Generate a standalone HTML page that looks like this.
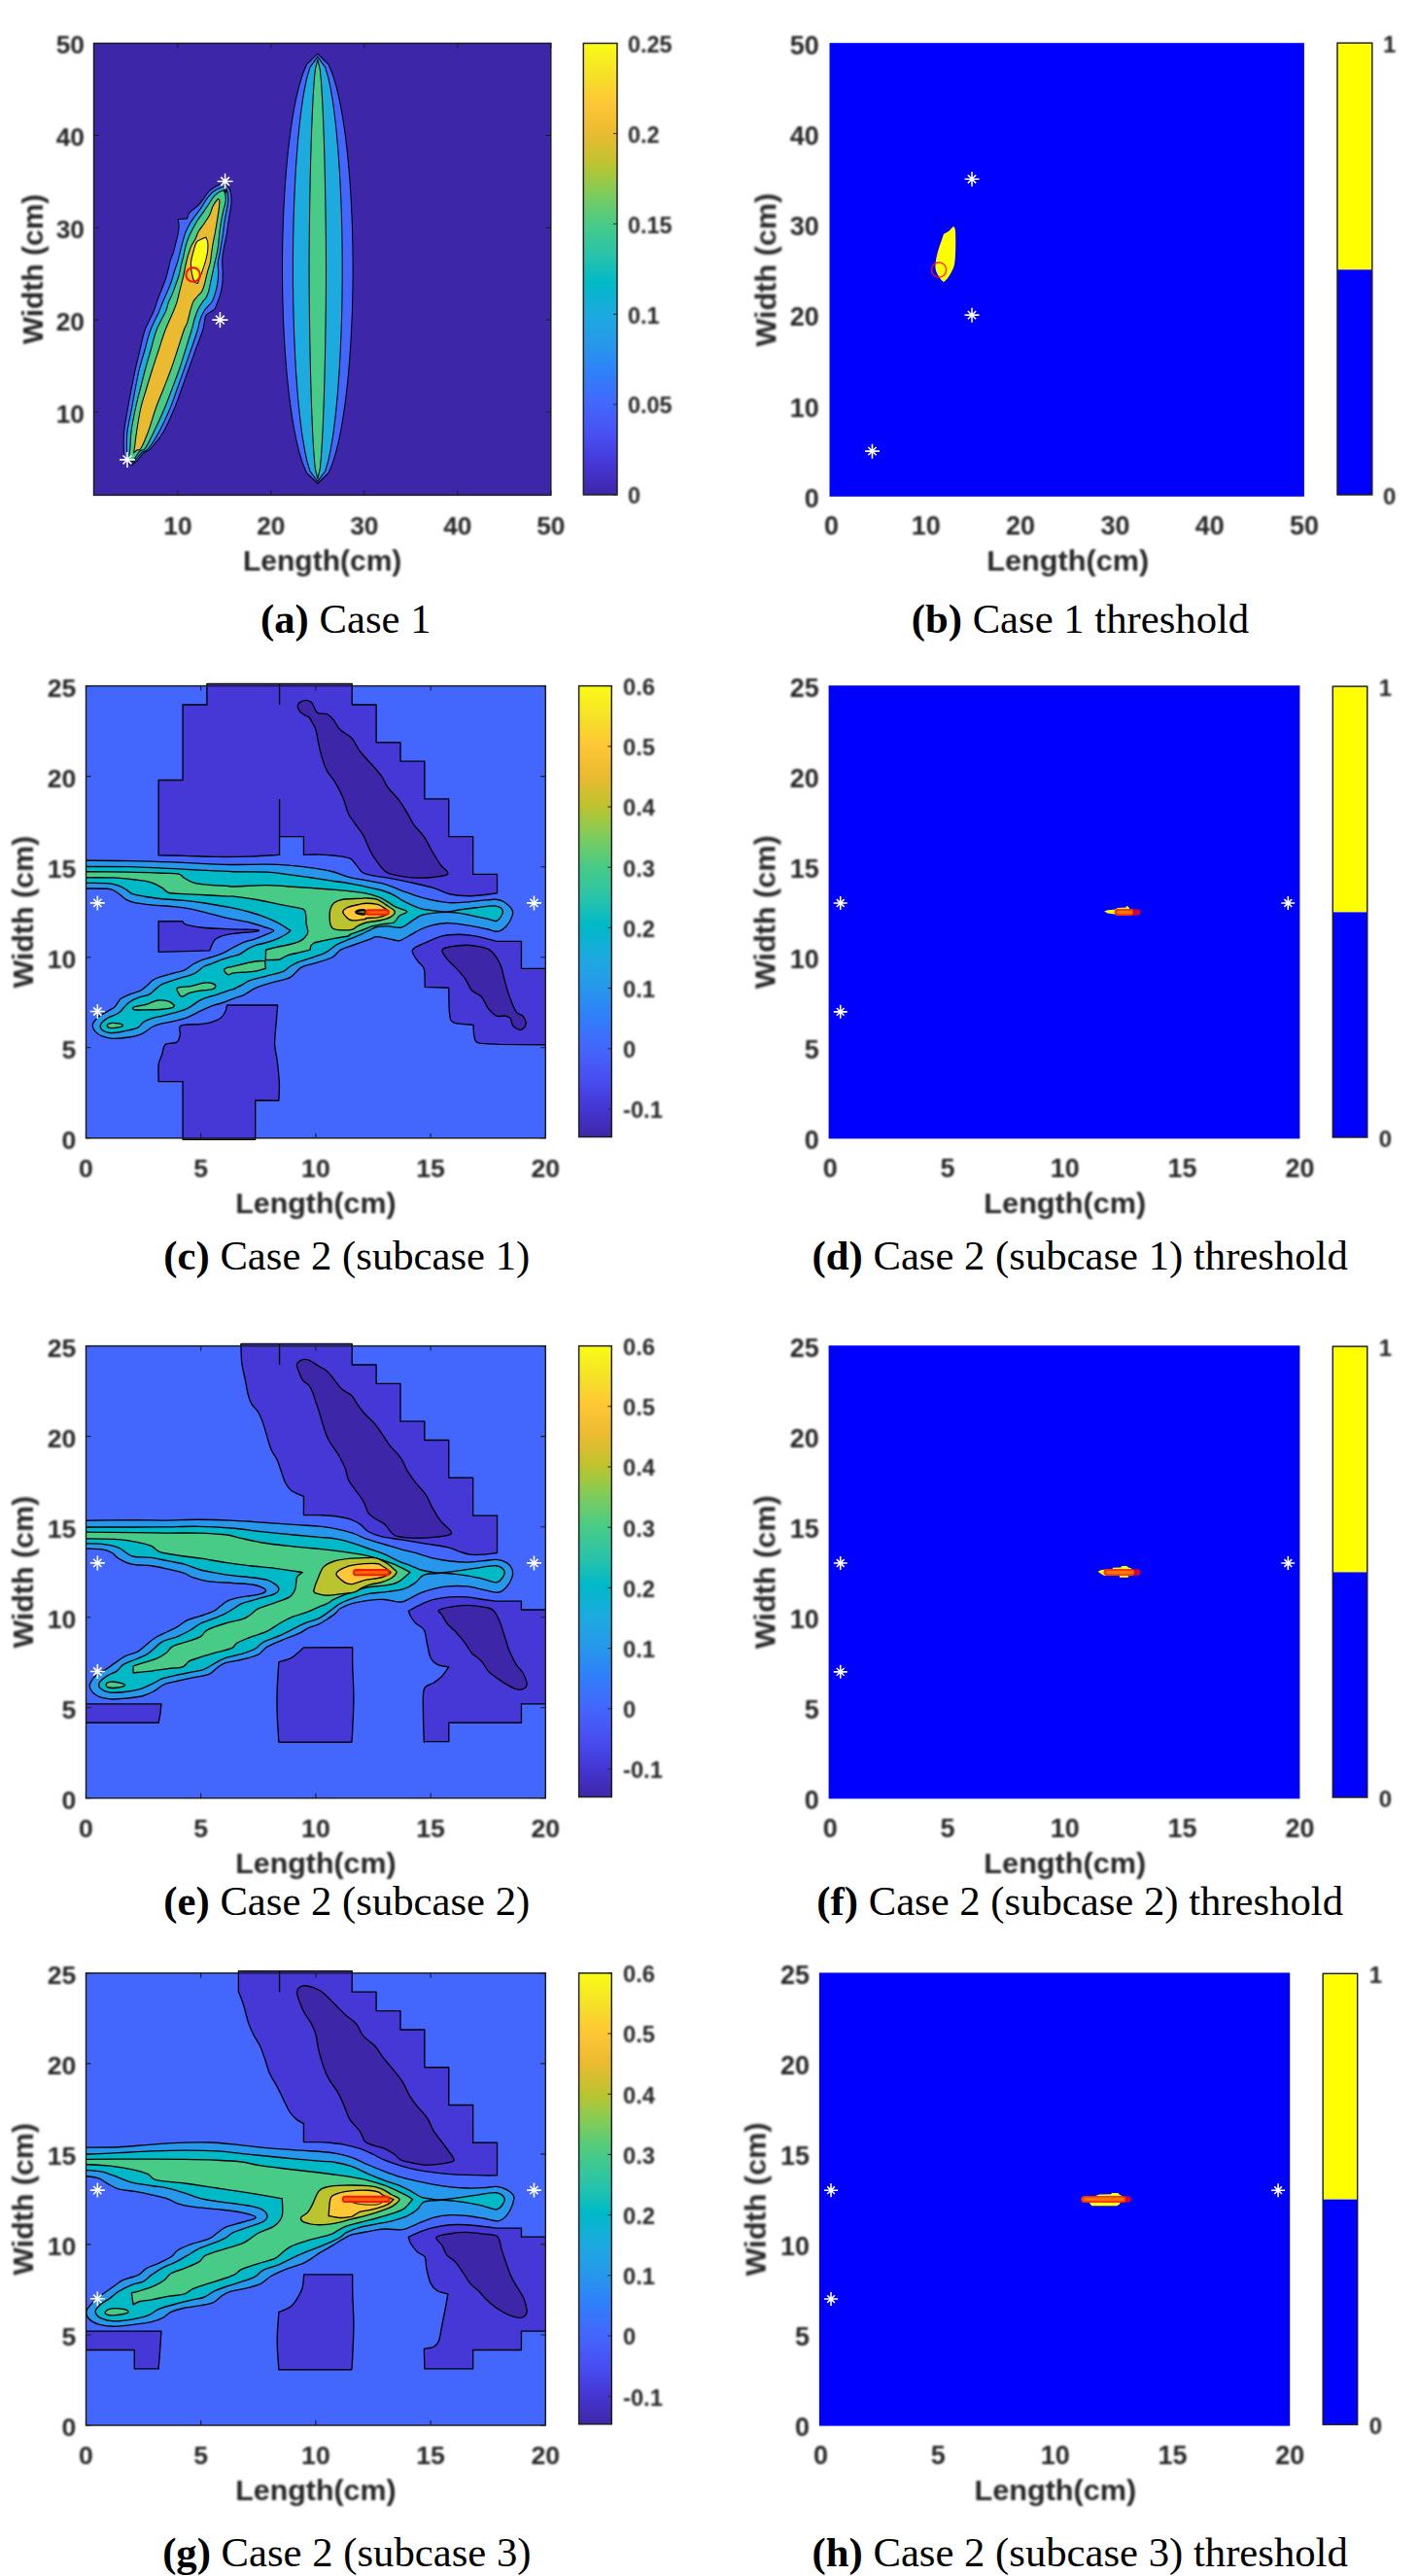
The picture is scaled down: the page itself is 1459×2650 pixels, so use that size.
<!DOCTYPE html>
<html lang="en"><head><meta charset="utf-8"><title>Figure</title>
<style>
html,body{margin:0;padding:0;background:#fff;}
body{width:1459px;height:2650px;overflow:hidden;}
svg{display:block;}
.t{filter:blur(0.8px);}
</style></head><body>
<svg width="1459" height="2650" viewBox="0 0 1459 2650">
<defs>
<linearGradient id="parula" x1="0" y1="1" x2="0" y2="0"><stop offset="0" stop-color="#3e26a8"/><stop offset="0.07" stop-color="#4538d7"/><stop offset="0.13" stop-color="#484ff2"/><stop offset="0.2" stop-color="#4367fd"/><stop offset="0.27" stop-color="#2f80fa"/><stop offset="0.33" stop-color="#2797eb"/><stop offset="0.4" stop-color="#1caadf"/><stop offset="0.47" stop-color="#00b9c7"/><stop offset="0.53" stop-color="#29c3aa"/><stop offset="0.6" stop-color="#48cb86"/><stop offset="0.67" stop-color="#81cc59"/><stop offset="0.73" stop-color="#bbc42f"/><stop offset="0.8" stop-color="#eaba30"/><stop offset="0.87" stop-color="#fec735"/><stop offset="0.93" stop-color="#f5e128"/><stop offset="1" stop-color="#f9fb15"/></linearGradient>
</defs>
<rect x="96.5" y="44.5" width="470.3" height="464.9" fill="#3e26a8"/>
<path d="M326.8 55.4L338.13 66.45L342.62 77.5L345.92 88.56L348.58 99.61L350.81 110.66L352.72 121.72L354.39 132.77L355.84 143.82L357.12 154.87L358.24 165.92L359.22 176.98L360.07 188.03L360.8 199.08L361.43 210.13L361.95 221.19L362.37 232.24L362.69 243.29L362.92 254.34L363.05 265.4L363.1 276.45L363.05 287.5L362.92 298.56L362.69 309.61L362.37 320.66L361.95 331.71L361.43 342.76L360.8 353.82L360.07 364.87L359.22 375.92L358.24 386.98L357.12 398.03L355.84 409.08L354.39 420.13L352.72 431.18L350.81 442.24L348.58 453.29L345.92 464.34L342.62 475.39L338.13 486.45L326.8 497.5L315.47 486.45L310.98 475.39L307.68 464.34L305.02 453.29L302.79 442.24L300.88 431.18L299.21 420.13L297.76 409.08L296.48 398.03L295.36 386.98L294.38 375.92L293.53 364.87L292.8 353.82L292.17 342.76L291.65 331.71L291.23 320.66L290.91 309.61L290.68 298.56L290.55 287.5L290.5 276.45L290.55 265.4L290.68 254.34L290.91 243.29L291.23 232.24L291.65 221.19L292.17 210.13L292.8 199.08L293.53 188.03L294.38 176.98L295.36 165.92L296.48 154.87L297.76 143.82L299.21 132.77L300.88 121.72L302.79 110.66L305.02 99.61L307.68 88.56L310.98 77.5L315.47 66.45Z" fill="#4367fd" stroke="#000" stroke-width="1.05" stroke-linejoin="round"/>
<path d="M326.8 58.4L334.73 69.32L337.87 80.25L340.18 91.17L342.04 102.1L343.6 113.02L344.94 123.95L346.1 134.87L347.12 145.8L348.01 156.72L348.8 167.65L349.48 178.57L350.08 189.5L350.59 200.42L351.03 211.35L351.39 222.27L351.69 233.2L351.91 244.12L352.07 255.05L352.17 265.97L352.2 276.9L352.17 287.82L352.07 298.75L351.91 309.67L351.69 320.6L351.39 331.52L351.03 342.45L350.59 353.38L350.08 364.3L349.48 375.22L348.8 386.15L348.01 397.07L347.12 408L346.1 418.92L344.94 429.85L343.6 440.77L342.04 451.7L340.18 462.62L337.87 473.55L334.73 484.47L326.8 495.4L318.87 484.47L315.73 473.55L313.42 462.62L311.56 451.7L310 440.77L308.66 429.85L307.5 418.92L306.48 408L305.59 397.07L304.8 386.15L304.12 375.22L303.52 364.3L303.01 353.38L302.57 342.45L302.21 331.52L301.91 320.6L301.69 309.67L301.53 298.75L301.43 287.82L301.4 276.9L301.43 265.97L301.53 255.05L301.69 244.12L301.91 233.2L302.21 222.27L302.57 211.35L303.01 200.42L303.52 189.5L304.12 178.57L304.8 167.65L305.59 156.72L306.48 145.8L307.5 134.87L308.66 123.95L310 113.02L311.56 102.1L313.42 91.17L315.73 80.25L318.87 69.32Z" fill="#1caadf" stroke="#000" stroke-width="1.05" stroke-linejoin="round"/>
<path d="M326.8 61.2L329.31 71.99L330.32 82.77L331.07 93.56L331.69 104.34L332.21 115.13L332.67 125.91L333.07 136.7L333.43 147.48L333.75 158.27L334.04 169.05L334.3 179.84L334.53 190.62L334.74 201.41L334.92 212.19L335.08 222.98L335.21 233.76L335.33 244.55L335.41 255.33L335.47 266.12L335.5 276.9L335.47 287.69L335.41 298.47L335.33 309.25L335.21 320.04L335.08 330.83L334.92 341.61L334.74 352.4L334.53 363.18L334.3 373.97L334.04 384.75L333.75 395.54L333.43 406.32L333.07 417.11L332.67 427.89L332.21 438.68L331.69 449.46L331.07 460.25L330.32 471.03L329.31 481.82L326.8 492.6L324.29 481.82L323.28 471.03L322.53 460.25L321.91 449.46L321.39 438.68L320.93 427.89L320.53 417.11L320.17 406.32L319.85 395.54L319.56 384.75L319.3 373.97L319.07 363.18L318.86 352.4L318.68 341.61L318.52 330.83L318.39 320.04L318.27 309.25L318.19 298.47L318.13 287.69L318.1 276.9L318.13 266.12L318.19 255.33L318.27 244.55L318.39 233.76L318.52 222.98L318.68 212.19L318.86 201.41L319.07 190.62L319.3 179.84L319.56 169.05L319.85 158.27L320.17 147.48L320.53 136.7L320.93 125.91L321.39 115.13L321.91 104.34L322.53 93.56L323.28 82.77L324.29 71.99Z" fill="#48cb86" stroke="#000" stroke-width="1.05" stroke-linejoin="round"/>
<path d="M192.62 224.88C191.02 224.97 184.63 225.35 183.03 225.44C183.22 226.57 184.16 229.58 184.16 232.21C184.16 234.85 183.6 238.23 183.03 241.24C182.47 244.25 181.53 247.26 180.78 250.27C180.02 253.28 179.46 256.29 178.52 259.29C177.58 262.3 176.07 265.12 175.13 268.32C174.19 271.52 173.82 274.9 172.88 278.48C171.94 282.05 170.81 286 169.49 289.76C168.18 293.52 166.3 297.66 164.98 301.04C163.66 304.43 162.72 306.91 161.59 310.07C160.47 313.23 160.31 315.01 158.21 320C156.11 324.99 151.37 333.33 149 340C146.63 346.67 145.6 353.42 144 360C142.4 366.58 140.87 372.83 139.4 379.5C137.93 386.17 136.52 393.25 135.2 400C133.88 406.75 132.77 412.67 131.5 420C130.23 427.33 128.32 437.17 127.6 444C126.88 450.83 127.1 456.67 127.2 461C127.3 465.33 127.28 467.27 128.2 470C129.12 472.73 131.32 476.1 132.7 477.4C134.08 478.7 134.98 478.53 136.5 477.8C138.02 477.07 139.88 474.97 141.8 473C143.72 471.03 145.75 468 148 466C150.25 464 151.92 464.67 155.3 461C158.68 457.33 164.27 450.83 168.3 444C172.33 437.17 176.42 427.33 179.5 420C182.58 412.67 184.35 406.75 186.8 400C189.25 393.25 191.8 386.17 194.2 379.5C196.6 372.83 198.82 366.58 201.2 360C203.58 353.42 206.97 344.83 208.5 340C210.03 335.17 209.87 333.55 210.4 331C210.93 328.45 210.92 326.22 211.7 324.7C212.48 323.18 213.58 323.02 215.1 321.9C216.62 320.78 219.48 319.5 220.8 318C222.12 316.5 222.07 315.25 223 312.9C223.93 310.55 225.45 307.28 226.4 303.9C227.35 300.52 228.23 296.37 228.7 292.6C229.17 288.83 229.2 285.07 229.2 281.3C229.2 277.53 228.68 273.29 228.7 270C228.72 266.71 228.97 264.28 229.29 261.55C229.62 258.83 229.99 257.04 230.65 253.65C231.31 250.27 232.55 245.19 233.24 241.24C233.94 237.29 234.26 233.72 234.82 229.96C235.39 226.2 236.08 222.44 236.63 218.67C237.17 214.91 238 210.96 238.1 207.39C238.19 203.82 237.81 199.87 237.19 197.24C236.57 194.6 235.59 193 234.37 191.59C233.15 190.18 232.21 188.58 229.86 188.77C227.51 188.96 222.81 191.31 220.27 192.72C217.73 194.13 216.51 195.17 214.63 197.24C212.75 199.3 210.87 202.69 208.98 205.13C207.1 207.58 205.22 210.02 203.34 211.9C201.46 213.78 199.21 215.1 197.7 216.42C196.2 217.73 195.16 218.39 194.32 219.8C193.47 221.21 192.91 224.03 192.62 224.88Z" fill="#4367fd" stroke="#000" stroke-width="1.05" stroke-linejoin="round"/>
<path d="M229.29 192.16C227.04 192.72 221.96 195.07 219.14 197.24C216.32 199.4 214.44 202.31 212.37 205.13C210.3 207.95 208.8 211.15 206.73 214.16C204.66 217.17 201.84 220.55 199.96 223.19C198.08 225.82 196.95 227.32 195.44 229.96C193.94 232.59 192.25 235.6 190.93 238.98C189.61 242.37 188.49 246.88 187.55 250.27C186.61 253.65 186.04 256.29 185.29 259.29C184.54 262.3 183.97 265.12 183.03 268.32C182.09 271.52 180.78 274.9 179.65 278.48C178.52 282.05 177.58 286 176.26 289.76C174.95 293.52 173.25 297.47 171.75 301.04C170.24 304.62 168.55 308.04 167.24 311.2C165.92 314.36 165.94 315.2 163.85 320C161.76 324.8 157.18 333.33 154.7 340C152.22 346.67 150.88 353.42 149 360C147.12 366.58 145.03 372.83 143.4 379.5C141.77 386.17 140.52 393.25 139.2 400C137.88 406.75 136.87 412.67 135.5 420C134.13 427.33 131.83 437.17 131 444C130.17 450.83 130.5 456.67 130.5 461C130.5 465.33 130.5 467.5 131 470C131.5 472.5 132.58 475 133.5 476C134.42 477 135.25 476.83 136.5 476C137.75 475.17 139.33 472.83 141 471C142.67 469.17 144.5 466.67 146.5 465C148.5 463.33 150.12 464.5 153 461C155.88 457.5 160.13 450.83 163.8 444C167.47 437.17 171.92 427.33 175 420C178.08 412.67 179.87 406.75 182.3 400C184.73 393.25 187.25 386.17 189.6 379.5C191.95 372.83 194.13 366.58 196.4 360C198.67 353.42 201.67 345 203.2 340C204.73 335 204.55 333.2 205.6 330C206.65 326.8 208.1 323.28 209.5 320.8C210.9 318.32 212.58 316.8 214 315.1C215.42 313.4 216.87 312.47 218 310.6C219.13 308.73 219.87 306.9 220.8 303.9C221.73 300.9 222.95 296.37 223.6 292.6C224.25 288.83 224.6 285.07 224.7 281.3C224.8 277.53 224 273.29 224.2 270C224.4 266.71 225.4 264.28 225.91 261.55C226.42 258.83 226.7 257.04 227.26 253.65C227.83 250.27 228.73 245.19 229.29 241.24C229.86 237.29 230.08 233.72 230.65 229.96C231.21 226.2 232 222.44 232.68 218.67C233.36 214.91 234.49 210.78 234.71 207.39C234.94 204.01 234.37 200.62 234.03 198.36C233.7 196.11 233.47 194.88 232.68 193.85C231.89 192.82 231.55 191.59 229.29 192.16Z" fill="#1caadf" stroke="#000" stroke-width="1.05" stroke-linejoin="round"/>
<path d="M229.29 196.11C227.6 196.48 223.65 198.55 221.4 200.62C219.14 202.69 217.82 205.51 215.75 208.52C213.69 211.53 211.05 215.67 208.98 218.67C206.92 221.68 205.04 223.94 203.34 226.57C201.65 229.21 200.33 231.65 198.83 234.47C197.32 237.29 195.63 240.3 194.32 243.5C193 246.69 191.87 250.27 190.93 253.65C189.99 257.04 189.43 260.61 188.67 263.81C187.92 267.01 187.17 269.64 186.42 272.83C185.67 276.03 185.1 279.61 184.16 282.99C183.22 286.38 181.9 289.95 180.78 293.15C179.65 296.34 178.71 298.98 177.39 302.17C176.07 305.37 174.01 309.36 172.88 312.33C171.75 315.3 172.62 315.39 170.62 320C168.62 324.61 163.47 333.33 160.9 340C158.33 346.67 157.08 353.42 155.2 360C153.32 366.58 151.42 372.83 149.6 379.5C147.78 386.17 146 393.25 144.3 400C142.6 406.75 140.95 412.67 139.4 420C137.85 427.33 135.92 437.17 135 444C134.08 450.83 134.23 456.83 133.9 461C133.57 465.17 132.9 466.75 133 469C133.1 471.25 133.92 473.67 134.5 474.5C135.08 475.33 135.58 474.83 136.5 474C137.42 473.17 138.75 471.17 140 469.5C141.25 467.83 142.4 465.42 144 464C145.6 462.58 147.2 464.33 149.6 461C152 457.67 155.12 450.83 158.4 444C161.68 437.17 166.2 427.33 169.3 420C172.4 412.67 174.45 406.75 177 400C179.55 393.25 182.3 386.17 184.6 379.5C186.9 372.83 188.73 366.58 190.8 360C192.87 353.42 195.43 345.33 197 340C198.57 334.67 199.05 331.67 200.2 328C201.35 324.33 202.53 320.9 203.9 318C205.27 315.1 207.1 312.48 208.4 310.6C209.7 308.72 210.67 308.47 211.7 306.7C212.73 304.93 213.77 302.78 214.6 300C215.43 297.22 216.03 293.12 216.7 290C217.37 286.88 217.88 284.63 218.6 281.3C219.32 277.97 220.27 273.29 221 270C221.73 266.71 222.38 264.46 222.98 261.55C223.57 258.64 224.07 256.29 224.56 252.52C225.04 248.76 225.4 243.12 225.91 238.98C226.42 234.85 226.94 231.46 227.6 227.7C228.26 223.94 229.11 219.8 229.86 216.42C230.61 213.03 231.83 210.4 232.12 207.39C232.4 204.38 232.02 200.24 231.55 198.36C231.08 196.48 230.99 195.73 229.29 196.11Z" fill="#48cb86" stroke="#000" stroke-width="1.05" stroke-linejoin="round"/>
<path d="M224.22 204.57C223.37 205.79 220.55 209.18 219.14 211.9C217.73 214.63 217.26 217.92 215.75 220.93C214.25 223.94 211.99 227.14 210.11 229.96C208.23 232.78 205.98 235.22 204.47 237.86C202.97 240.49 202.4 243.12 201.09 245.75C199.77 248.39 197.89 250.64 196.57 253.65C195.26 256.66 194.13 260.61 193.19 263.81C192.25 267.01 191.68 269.45 190.93 272.83C190.18 276.22 189.43 280.73 188.67 284.12C187.92 287.5 187.17 290.14 186.42 293.15C185.67 296.15 184.91 299.16 184.16 302.17C183.41 305.18 182.84 308.23 181.9 311.2C180.96 314.17 180.52 315.2 178.52 320C176.52 324.8 172.44 333.33 169.9 340C167.36 346.67 165.47 353.42 163.3 360C161.13 366.58 159.02 372.83 156.9 379.5C154.78 386.17 152.62 393.25 150.6 400C148.58 406.75 146.47 412.67 144.8 420C143.13 427.33 141.67 437.17 140.6 444C139.53 450.83 138.92 457.33 138.4 461C137.88 464.67 137.65 465.17 137.5 466C138.08 465.5 139.73 463.83 141 463C142.27 462.17 143.18 464.17 145.1 461C147.02 457.83 149.97 450.83 152.5 444C155.03 437.17 157.68 427.33 160.3 420C162.92 412.67 165.57 406.75 168.2 400C170.83 393.25 173.7 386.17 176.1 379.5C178.5 372.83 180.43 366.58 182.6 360C184.77 353.42 187.43 344.65 189.1 340C190.77 335.35 191.65 334.83 192.6 332.1C193.55 329.37 194.05 326.43 194.8 323.6C195.55 320.77 196.35 317.45 197.1 315.1C197.85 312.75 198.23 311.27 199.3 309.5C200.37 307.73 202.12 306.08 203.5 304.5C204.88 302.92 206.43 302.08 207.6 300C208.77 297.92 209.6 295.12 210.5 292C211.4 288.88 212.03 284.97 213 281.3C213.97 277.63 215.56 273.29 216.3 270C217.04 266.71 216.97 264.84 217.45 261.55C217.92 258.26 218.48 254.03 219.14 250.27C219.8 246.51 220.64 243.12 221.4 238.98C222.15 234.85 222.99 229.58 223.65 225.44C224.31 221.31 224.97 217.36 225.35 214.16C225.72 210.96 226.1 207.86 225.91 206.26C225.72 204.66 224.5 204.85 224.22 204.57Z" fill="#eaba30" stroke="#000" stroke-width="1.05" stroke-linejoin="round"/>
<path d="M211.81 244.06C212.13 244.91 213.44 246.6 213.72 249.14C214.01 251.68 213.91 255.91 213.5 259.29C213.08 262.68 212.18 266.06 211.24 269.45C210.3 272.83 209.17 275.94 207.86 279.61C206.54 283.27 204.09 289.48 203.34 291.45C202.78 291.17 200.99 291.73 199.96 289.76C198.92 287.79 197.7 282.99 197.14 279.61C196.57 276.22 196.29 272.83 196.57 269.45C196.85 266.06 197.89 262.68 198.83 259.29C199.77 255.91 200.9 251.3 202.21 249.14C203.53 246.98 205.13 247.17 206.73 246.32C208.33 245.47 210.96 244.44 211.81 244.06Z" fill="#f9fb15" stroke="#000" stroke-width="1.05" stroke-linejoin="round"/>
<ellipse cx="231.89" cy="195.88" rx="1.7" ry="3" fill="#111" transform="translate(0 0)"/>
<circle cx="198.6" cy="282.6" r="7.2" fill="none" stroke="#f21d00" stroke-width="2.1"/>
<path d="M223.6 186.5L239.6 186.5M227.19 182.09L236.01 190.91M231.6 178.5L231.6 194.5M236.01 182.09L227.19 190.91" stroke="#fff" stroke-width="1.6" fill="none" stroke-linecap="butt"/>
<path d="M218.4 329.1L234.4 329.1M221.99 324.69L230.81 333.51M226.4 321.1L226.4 337.1M230.81 324.69L221.99 333.51" stroke="#fff" stroke-width="1.6" fill="none" stroke-linecap="butt"/>
<path d="M123 472.9L139 472.9M126.59 468.49L135.41 477.31M131 464.9L131 480.9M135.41 468.49L126.59 477.31" stroke="#fff" stroke-width="1.6" fill="none" stroke-linecap="butt"/>
<rect x="96.5" y="44.5" width="470.3" height="464.9" fill="none" stroke="#1e1e1e" stroke-width="1.45"/>
<path d="M182.88 509.4v-5M182.88 44.5v5M278.86 509.4v-5M278.86 44.5v5M374.84 509.4v-5M374.84 44.5v5M470.82 509.4v-5M470.82 44.5v5M566.8 509.4v-5M566.8 44.5v5M96.5 424.01h5M566.8 424.01h-5M96.5 329.13h5M566.8 329.13h-5M96.5 234.26h5M566.8 234.26h-5M96.5 139.38h5M566.8 139.38h-5M96.5 44.5h5M566.8 44.5h-5" stroke="#1e1e1e" stroke-width="1.1" fill="none"/>
<text class="t" transform="translate(182.88 549.5) scale(1 1)" font-family='"Liberation Sans", Arial, sans-serif' font-size="26.3" font-weight="bold" text-anchor="middle" fill="#262626">10</text>
<text class="t" transform="translate(278.86 549.5) scale(1 1)" font-family='"Liberation Sans", Arial, sans-serif' font-size="26.3" font-weight="bold" text-anchor="middle" fill="#262626">20</text>
<text class="t" transform="translate(374.84 549.5) scale(1 1)" font-family='"Liberation Sans", Arial, sans-serif' font-size="26.3" font-weight="bold" text-anchor="middle" fill="#262626">30</text>
<text class="t" transform="translate(470.82 549.5) scale(1 1)" font-family='"Liberation Sans", Arial, sans-serif' font-size="26.3" font-weight="bold" text-anchor="middle" fill="#262626">40</text>
<text class="t" transform="translate(566.8 549.5) scale(1 1)" font-family='"Liberation Sans", Arial, sans-serif' font-size="26.3" font-weight="bold" text-anchor="middle" fill="#262626">50</text>
<text class="t" transform="translate(87 434.93) scale(1 1)" font-family='"Liberation Sans", Arial, sans-serif' font-size="26.3" font-weight="bold" text-anchor="end" fill="#262626">10</text>
<text class="t" transform="translate(87 340.05) scale(1 1)" font-family='"Liberation Sans", Arial, sans-serif' font-size="26.3" font-weight="bold" text-anchor="end" fill="#262626">20</text>
<text class="t" transform="translate(87 245.17) scale(1 1)" font-family='"Liberation Sans", Arial, sans-serif' font-size="26.3" font-weight="bold" text-anchor="end" fill="#262626">30</text>
<text class="t" transform="translate(87 150.29) scale(1 1)" font-family='"Liberation Sans", Arial, sans-serif' font-size="26.3" font-weight="bold" text-anchor="end" fill="#262626">40</text>
<text class="t" transform="translate(87 55.42) scale(1 1)" font-family='"Liberation Sans", Arial, sans-serif' font-size="26.3" font-weight="bold" text-anchor="end" fill="#262626">50</text>
<text class="t" transform="translate(331.65 587) scale(1 1)" font-family='"Liberation Sans", Arial, sans-serif' font-size="30" font-weight="bold" text-anchor="middle" fill="#262626">Length(cm)</text>
<text class="t" transform="translate(44 276.95) rotate(-90) scale(1 1)" font-family='"Liberation Sans", Arial, sans-serif' font-size="30" font-weight="bold" text-anchor="middle" fill="#262626">Width (cm)</text>
<rect x="600.3" y="44.5" width="34.7" height="464.5" fill="url(#parula)"/>
<rect x="600.3" y="44.5" width="34.7" height="464.5" fill="none" stroke="#1e1e1e" stroke-width="1.45"/>
<text class="t" transform="translate(646 518.38) scale(1 1)" font-family='"Liberation Sans", Arial, sans-serif' font-size="23.4" font-weight="bold" text-anchor="start" fill="#262626">0</text>
<text class="t" transform="translate(646 425.48) scale(1 1)" font-family='"Liberation Sans", Arial, sans-serif' font-size="23.4" font-weight="bold" text-anchor="start" fill="#262626">0.05</text>
<text class="t" transform="translate(646 332.58) scale(1 1)" font-family='"Liberation Sans", Arial, sans-serif' font-size="23.4" font-weight="bold" text-anchor="start" fill="#262626">0.1</text>
<text class="t" transform="translate(646 239.68) scale(1 1)" font-family='"Liberation Sans", Arial, sans-serif' font-size="23.4" font-weight="bold" text-anchor="start" fill="#262626">0.15</text>
<text class="t" transform="translate(646 146.78) scale(1 1)" font-family='"Liberation Sans", Arial, sans-serif' font-size="23.4" font-weight="bold" text-anchor="start" fill="#262626">0.2</text>
<text class="t" transform="translate(646 53.88) scale(1 1)" font-family='"Liberation Sans", Arial, sans-serif' font-size="23.4" font-weight="bold" text-anchor="start" fill="#262626">0.25</text>
<path d="M635 509h-4M635 416.1h-4M635 323.2h-4M635 230.3h-4M635 137.4h-4M635 44.5h-4" stroke="#262626" stroke-width="1" fill="none"/>
<text x="355.8" y="651.3" font-family='"Liberation Serif", "Times New Roman", serif' font-size="42.7" text-anchor="middle" fill="#000"><tspan font-weight="bold">(a)</tspan> Case 1</text>
<rect x="853.5" y="44.2" width="488.4" height="466.6" fill="#0000ff"/>
<path d="M981.13 232.79C981.42 233.44 982.54 233.91 982.89 236.67C983.24 239.43 983.24 244.9 983.24 249.37C983.24 253.83 983.13 259.59 982.89 263.47C982.66 267.35 982.42 270.05 981.83 272.64C981.25 275.22 980.48 276.75 979.37 278.98C978.25 281.22 976.49 284.21 975.13 286.04C973.78 287.86 971.9 289.27 971.26 289.92C970.73 289.5 969.32 289.03 968.08 287.45C966.85 285.86 964.79 282.51 963.85 280.39C962.91 278.28 962.56 276.99 962.44 274.75C962.32 272.52 962.68 269.82 963.15 267C963.62 264.17 964.44 260.77 965.26 257.83C966.08 254.89 967.14 252.19 968.08 249.37C969.02 246.54 970.43 242.31 970.9 240.9C971.73 240.43 974.43 239.14 975.84 238.08C977.25 237.02 978.48 235.44 979.37 234.56C980.25 233.67 980.83 233.09 981.13 232.79Z" fill="#ffff00"/>
<circle cx="966.1" cy="277.6" r="7.6" fill="none" stroke="#ff1400" stroke-width="1.5" opacity="0.85"/>
<path d="M992.52 184.18L1007.52 184.18M995.88 180.04L1004.16 188.32M1000.02 176.68L1000.02 191.68M1004.16 180.04L995.88 188.32" stroke="#fff" stroke-width="1.6" fill="none" stroke-linecap="butt"/>
<path d="M992.52 324.16L1007.52 324.16M995.88 320.02L1004.16 328.3M1000.02 316.66L1000.02 331.66M1004.16 320.02L995.88 328.3" stroke="#fff" stroke-width="1.6" fill="none" stroke-linecap="butt"/>
<path d="M889.96 464.14L904.96 464.14M893.32 460L901.59 468.28M897.46 456.64L897.46 471.64M901.59 460L893.32 468.28" stroke="#fff" stroke-width="1.6" fill="none" stroke-linecap="butt"/>
<text class="t" transform="translate(855.4 549.5) scale(1 1)" font-family='"Liberation Sans", Arial, sans-serif' font-size="26.96" font-weight="bold" text-anchor="middle" fill="#262626">0</text>
<text class="t" transform="translate(952.74 549.5) scale(1 1)" font-family='"Liberation Sans", Arial, sans-serif' font-size="26.96" font-weight="bold" text-anchor="middle" fill="#262626">10</text>
<text class="t" transform="translate(1050.08 549.5) scale(1 1)" font-family='"Liberation Sans", Arial, sans-serif' font-size="26.96" font-weight="bold" text-anchor="middle" fill="#262626">20</text>
<text class="t" transform="translate(1147.42 549.5) scale(1 1)" font-family='"Liberation Sans", Arial, sans-serif' font-size="26.96" font-weight="bold" text-anchor="middle" fill="#262626">30</text>
<text class="t" transform="translate(1244.76 549.5) scale(1 1)" font-family='"Liberation Sans", Arial, sans-serif' font-size="26.96" font-weight="bold" text-anchor="middle" fill="#262626">40</text>
<text class="t" transform="translate(1342.1 549.5) scale(1 1)" font-family='"Liberation Sans", Arial, sans-serif' font-size="26.96" font-weight="bold" text-anchor="middle" fill="#262626">50</text>
<text class="t" transform="translate(842.8 521.75) scale(1 1)" font-family='"Liberation Sans", Arial, sans-serif' font-size="26.96" font-weight="bold" text-anchor="end" fill="#262626">0</text>
<text class="t" transform="translate(842.8 428.55) scale(1 1)" font-family='"Liberation Sans", Arial, sans-serif' font-size="26.96" font-weight="bold" text-anchor="end" fill="#262626">10</text>
<text class="t" transform="translate(842.8 335.35) scale(1 1)" font-family='"Liberation Sans", Arial, sans-serif' font-size="26.96" font-weight="bold" text-anchor="end" fill="#262626">20</text>
<text class="t" transform="translate(842.8 242.15) scale(1 1)" font-family='"Liberation Sans", Arial, sans-serif' font-size="26.96" font-weight="bold" text-anchor="end" fill="#262626">30</text>
<text class="t" transform="translate(842.8 148.95) scale(1 1)" font-family='"Liberation Sans", Arial, sans-serif' font-size="26.96" font-weight="bold" text-anchor="end" fill="#262626">40</text>
<text class="t" transform="translate(842.8 55.75) scale(1 1)" font-family='"Liberation Sans", Arial, sans-serif' font-size="26.96" font-weight="bold" text-anchor="end" fill="#262626">50</text>
<text class="t" transform="translate(1098.75 587) scale(1.05 1)" font-family='"Liberation Sans", Arial, sans-serif' font-size="29.21" font-weight="bold" text-anchor="middle" fill="#262626">Length(cm)</text>
<text class="t" transform="translate(798.3 277.6) rotate(-90) scale(1.05 1)" font-family='"Liberation Sans", Arial, sans-serif' font-size="29.21" font-weight="bold" text-anchor="middle" fill="#262626">Width (cm)</text>
<rect x="1376" y="44.2" width="35.8" height="233.2" fill="#ffff00"/>
<rect x="1376" y="277.4" width="35.8" height="231.6" fill="#0000ff"/>
<rect x="1376" y="44.2" width="35.8" height="464.8" fill="none" stroke="#1e1e1e" stroke-width="1.45"/>
<text class="t" transform="translate(1423 53.79) scale(1 1)" font-family='"Liberation Sans", Arial, sans-serif' font-size="23.98" font-weight="bold" text-anchor="start" fill="#262626">1</text>
<text class="t" transform="translate(1423 518.59) scale(1 1)" font-family='"Liberation Sans", Arial, sans-serif' font-size="23.98" font-weight="bold" text-anchor="start" fill="#262626">0</text>
<text x="1111.5" y="651.3" font-family='"Liberation Serif", "Times New Roman", serif' font-size="42.7" text-anchor="middle" fill="#000"><tspan font-weight="bold">(b)</tspan> Case 1 threshold</text>
<rect x="88.5" y="705.6" width="472.8" height="465.2" fill="#4367fd"/>
<clipPath id="clip0"><rect x="88.5" y="701.6" width="472.8" height="472.2"/></clipPath>
<g clip-path="url(#clip0)">
<path d="M212.92 703.4L212.92 724.98L188.04 724.98L188.04 802.52L163.15 802.52L163.15 879.75L162.98 879.75C167.41 879.86 179.48 880.14 189.55 880.42C199.62 880.71 212.12 881.33 223.4 881.44C234.69 881.55 246.67 881.44 257.25 881.1C267.83 880.76 281.94 879.69 286.87 879.41L287.57 879.41L287.57 879.41L287.57 860.67L312.46 860.67L312.46 879.41L312.77 879.41C315.31 879.35 322.64 878.93 328 879.07C333.36 879.21 339.57 879.58 344.93 880.25C350.28 880.93 356.49 881.44 360.16 883.13C363.83 884.82 364.67 887.93 366.93 890.41C369.18 892.89 370.31 896.19 373.7 898.03C377.08 899.86 383.01 900.56 387.24 901.41C391.47 902.26 393.16 902.03 399.09 903.1C405.01 904.17 414.88 906.09 422.78 907.84C430.68 909.59 439.71 911.57 446.48 913.6C453.25 915.63 456.91 918.67 463.4 920.03C469.89 921.38 477.42 921.92 485.4 921.72C493.39 921.52 506.98 919.32 511.3 918.84L511.53 918.84L511.53 918.84L511.53 899.43L486.65 899.43L486.65 860.67L461.76 860.67L461.76 821.9L436.88 821.9L436.88 783.13L411.99 783.13L411.99 763.75L387.11 763.75L387.11 724.98L362.23 724.98L362.23 703.4Z" fill="#4538d7" stroke="#000" stroke-width="1.35" stroke-linejoin="round"/>
<path d="M287.57 703.4V724.98 M287.57 821.9V860.67" fill="none" stroke="#000" stroke-width="1.35" stroke-linejoin="round"/>
<path d="M328 733.85C329.92 734.41 333.92 733.57 336.46 734.7C339 735.83 340.98 737.94 343.23 740.62C345.49 743.3 346.9 747.67 350 750.78C353.11 753.88 358.47 755.57 361.85 759.24C365.24 762.91 366.65 767.98 370.31 772.78C373.98 777.57 380.19 783.78 383.85 788.01C387.52 792.24 389.78 794.5 392.32 798.17C394.85 801.83 395.98 805.78 399.09 810.01C402.19 814.25 407.55 819.04 410.93 823.55C414.32 828.07 416.86 832.86 419.4 837.09C421.94 841.33 423.35 844.99 426.17 848.94C428.99 852.89 433.22 856.28 436.32 860.79C439.42 865.3 441.96 871.23 444.78 876.02C447.61 880.82 450.57 885.75 453.25 889.56C455.93 893.37 461.99 896.76 460.86 898.87C459.73 900.99 451.7 901.55 446.48 902.26C441.26 902.96 435.19 903.24 429.55 903.1C423.91 902.96 417.99 902.4 412.63 901.41C407.27 900.42 401.62 899.86 397.39 897.18C393.16 894.5 390.06 889.14 387.24 885.33C384.42 881.52 382.72 878.7 380.47 874.33C378.21 869.96 376.24 863.61 373.7 859.1C371.16 854.58 367.77 850.92 365.24 847.25C362.7 843.58 360.44 841.33 358.47 837.09C356.49 832.86 355.64 827.22 353.39 821.86C351.13 816.5 347.75 809.73 344.93 804.94C342.1 800.14 338.72 797.32 336.46 793.09C334.21 788.86 332.8 784.06 331.39 779.55C329.97 775.04 329.07 770.8 328 766.01C326.93 761.21 326.03 754.44 324.95 750.78C323.88 747.11 322.7 746.12 321.57 744.01C320.44 741.89 319.59 739.49 318.18 738.08C316.77 736.67 314.66 736.53 313.11 735.54C311.55 734.56 310 733.57 308.87 732.16C307.75 730.75 306.48 728.63 306.34 727.08C306.19 725.53 306.62 723.98 308.03 722.85C309.44 721.72 312.68 720.31 314.8 720.31C316.91 720.31 319.31 721.58 320.72 722.85C322.13 724.12 322.56 726.52 323.26 727.93C323.97 729.34 324.16 730.32 324.95 731.31C325.74 732.3 326.08 733.29 328 733.85Z" fill="#3e26a8" stroke="#000" stroke-width="1.35" stroke-linejoin="round"/>
<path d="M163.15 979.33L163.15 947.7L187.86 947.7L187.86 947.7C188.42 948.27 188.14 950.04 191.24 951.09C194.35 952.13 199.71 953.2 206.48 953.96C213.25 954.72 222.56 955.23 231.86 955.66C241.17 956.08 256.97 956.08 262.33 956.5C267.69 956.93 267.69 957.55 264.02 958.19C260.36 958.84 246.25 959.61 240.33 960.39C234.4 961.18 231.58 961.95 228.48 962.93C225.38 963.92 223.4 964.91 221.71 966.32C220.02 967.73 219.31 969.48 218.32 971.4C217.34 973.31 216.21 976.76 215.79 977.83L215.79 977.83L215.79 977.83L163.15 979.33Z" fill="#4538d7" stroke="#000" stroke-width="1.35" stroke-linejoin="round"/>
<path d="M233.56 1034.02C233.28 1035.15 232.99 1038.53 231.86 1040.79C230.74 1043.05 229.33 1045.73 226.79 1047.56C224.25 1049.39 220.02 1050.8 216.63 1051.79C213.25 1052.78 211.55 1052.92 206.48 1053.48C201.4 1054.05 189.69 1053.34 186.17 1055.18C182.64 1057.01 186.03 1061.66 185.32 1064.49C184.61 1067.31 184.47 1070.41 181.94 1072.1C179.4 1073.79 172.63 1072.52 170.09 1074.64C167.55 1076.76 167.83 1081.55 166.7 1084.8C165.57 1088.04 163.94 1090.72 163.32 1094.1C162.7 1097.49 163.04 1103.27 162.98 1105.11L163.15 1112.65L163.15 1112.65L188.04 1112.65L188.04 1172.3L262.69 1172.3L262.69 1132.03L286.87 1132.24L286.87 1132.24C286.96 1129.28 287.66 1121.38 287.38 1114.47C287.1 1107.56 285.97 1097.55 285.18 1090.78C284.39 1084.01 282.78 1080.62 282.64 1073.85C282.5 1067.08 283.83 1056.79 284.33 1050.16C284.84 1043.52 285.46 1036.71 285.69 1034.02Z" fill="#4538d7" stroke="#000" stroke-width="1.35" stroke-linejoin="round"/>
<path d="M565 996.35L536.42 996.35L536.42 968.35L510.79 968.35L510.79 968.35C507.13 967.45 495.28 964.12 488.79 962.93C482.3 961.75 477.51 961.24 471.86 961.24C466.22 961.24 460.58 961.52 454.94 962.93C449.3 964.34 443.09 967.31 438.01 969.7C432.94 972.1 425.88 974.22 424.47 977.32C423.06 980.42 427.58 985.08 429.55 988.32C431.53 991.57 435.05 992.27 436.32 996.78C437.59 1001.3 437.03 1012.3 437.17 1015.4L461.71 1016.25L461.71 1016.25L461.71 1016.25C461.85 1020.62 461.71 1036.56 462.56 1042.48C463.4 1048.41 462.7 1049.82 466.79 1051.79C470.88 1053.77 483.71 1053.91 487.1 1054.33L487.1 1054.33C487.24 1056.3 487.1 1063.07 487.94 1066.18C488.79 1069.28 487.8 1071.59 492.17 1072.95C496.55 1074.3 510.51 1074.08 514.18 1074.3L565 1074.8L565 1074.8Z" fill="#4538d7" stroke="#000" stroke-width="1.35" stroke-linejoin="round"/>
<path d="M454.94 977.32C455.5 975.2 459.17 974.78 463.4 973.94C467.63 973.09 475.25 972.24 480.33 972.24C485.4 972.24 489.92 973.09 493.87 973.94C497.82 974.78 501.2 975.49 504.02 977.32C506.84 979.15 508.82 981.97 510.79 984.94C512.77 987.9 514.46 991.14 515.87 995.09C517.28 999.04 517.84 1003.55 519.26 1008.63C520.67 1013.71 522.36 1020.2 524.33 1025.56C526.31 1030.92 528.85 1037.55 531.1 1040.79C533.36 1044.03 536.18 1043.05 537.87 1045.02C539.57 1047 541.12 1050.52 541.26 1052.64C541.4 1054.75 539.85 1056.59 538.72 1057.72C537.59 1058.84 536.32 1059.83 534.49 1059.41C532.65 1058.98 529.27 1057.15 527.72 1055.18C526.17 1053.2 526.59 1049.25 525.18 1047.56C523.77 1045.87 521.65 1045.44 519.26 1045.02C516.86 1044.6 513.61 1046.29 510.79 1045.02C507.97 1043.75 504.87 1040.65 502.33 1037.4C499.79 1034.16 498.38 1028.66 495.56 1025.56C492.74 1022.45 488.23 1021.89 485.4 1018.79C482.58 1015.68 481.46 1010.89 478.63 1006.94C475.81 1002.99 471.58 998.48 468.48 995.09C465.38 991.71 462.27 989.59 460.02 986.63C457.76 983.67 454.38 979.44 454.94 977.32Z" fill="#3e26a8" stroke="#000" stroke-width="1.35" stroke-linejoin="round"/>
<path d="M84.61 885.23C92.7 885.29 117.53 885.29 133.13 885.57C148.74 885.85 165.1 886.42 178.27 886.93C191.43 887.43 201.83 888.19 212.12 888.62C222.41 889.05 229.71 889.43 240 889.52C250.29 889.61 264.45 889.09 273.85 889.18C283.25 889.28 288.9 889.52 296.42 890.08C303.94 890.65 311.46 891.5 318.98 892.57C326.51 893.64 334.72 894.82 341.55 896.52C348.39 898.21 354.1 901.22 360 902.72C365.9 904.23 371.28 904.51 376.93 905.54C382.57 906.58 389.15 907.71 393.85 908.93C398.55 910.15 401.37 911.47 405.13 912.88C408.9 914.29 411.72 915.7 416.42 917.39C421.12 919.08 427.7 921.43 433.34 923.03C438.98 924.63 445.57 926.04 450.27 926.98C454.97 927.92 456.85 928.49 461.55 928.67C466.25 928.86 472.83 928.49 478.48 928.11C484.12 927.73 490.14 926.89 495.4 926.42C500.67 925.95 506.31 925.1 510.07 925.29C513.83 925.48 515.17 925.79 517.97 927.55C520.77 929.31 525.39 933.34 526.87 935.85C528.36 938.37 527.86 939.8 526.87 942.62C525.88 945.44 523.35 950.18 520.95 952.78C518.55 955.37 515.8 957.7 512.49 958.19C509.17 958.69 505.77 956.73 501.04 955.75C496.32 954.78 490.7 953.4 484.12 952.37C477.54 951.34 468.13 949.64 461.55 949.55C454.97 949.45 449.33 950.77 444.63 951.81C439.92 952.84 436.92 954.16 433.34 955.75C429.77 957.35 426.57 959.52 423.19 961.4C419.8 963.28 415.48 966 413.03 967.04C410.59 968.07 410.96 967.88 408.52 967.6C406.07 967.32 401.94 966 398.36 965.35C394.79 964.69 389.9 963.56 387.08 963.65C384.26 963.75 385.27 964.52 381.44 965.91C377.61 967.3 369.26 970.14 364.12 972C358.98 973.86 354.34 974.92 350.58 977.08C346.82 979.24 345.88 982.72 341.55 984.98C337.23 987.24 329.89 988.93 324.63 990.62C319.36 992.31 314.28 992.69 309.96 995.13C305.63 997.58 303.75 1002.66 298.67 1005.29C293.6 1007.92 285.51 1009.05 279.49 1010.93C273.47 1012.81 267.27 1014.5 262.57 1016.57C257.87 1018.64 255.04 1021.56 251.28 1023.34C247.52 1025.13 243.71 1025.93 240 1027.29C236.29 1028.65 232.75 1030.23 229.04 1031.5C225.34 1032.76 221.52 1033.47 217.76 1034.88C214 1036.29 210.24 1038.17 206.48 1039.96C202.72 1041.74 198.39 1044.19 195.19 1045.6C192 1047.01 190.12 1047.57 187.29 1048.42C184.47 1049.27 181.65 1049.92 178.27 1050.68C174.88 1051.43 170.37 1052.09 166.98 1052.93C163.6 1053.78 160.59 1054.53 157.96 1055.75C155.32 1056.98 153.44 1058.86 151.19 1060.27C148.93 1061.68 147.43 1063.09 144.42 1064.22C141.41 1065.35 137.84 1066.34 133.13 1067.04C128.43 1067.73 120.91 1068.58 116.21 1068.39C111.51 1068.2 107.93 1067.08 104.93 1065.91C101.92 1064.74 99.75 1063.09 98.16 1061.4C96.56 1059.7 95.52 1057.54 95.33 1055.75C95.15 1053.97 95.8 1052.46 97.03 1050.68C98.25 1048.89 100.41 1046.73 102.67 1045.04C104.93 1043.34 107.93 1042.12 110.57 1040.52C113.2 1038.92 116.21 1037.61 118.47 1035.44C120.72 1033.28 121.66 1029.61 124.11 1027.55C126.55 1025.48 129.75 1024.44 133.13 1023.03C136.52 1021.62 141.41 1020.59 144.42 1019.08C147.43 1017.58 148.93 1015.89 151.19 1014.01C153.44 1012.13 155.32 1009.4 157.96 1007.8C160.59 1006.2 163.6 1005.54 166.98 1004.41C170.37 1003.29 174.51 1002.06 178.27 1001.03C182.03 1000 186.17 999.71 189.55 998.21C192.94 996.7 195.76 993.7 198.58 992C201.4 990.31 203.28 989.28 206.48 988.05C209.67 986.83 214 985.89 217.76 984.67C221.52 983.45 225.28 982.41 229.04 980.72C232.8 979.03 236.62 976.44 240.33 974.51C244.03 972.59 247.58 970.63 251.28 969.18C254.99 967.73 258.81 967.11 262.57 965.8C266.33 964.48 270.65 962.69 273.85 961.28C277.05 959.87 282.13 958.63 281.75 957.33C281.37 956.04 275.73 954.89 271.59 953.5C267.46 952.11 262.19 950.3 256.93 948.98C251.66 947.67 244.65 946.54 240 945.6C235.35 944.66 233.69 944.47 229.04 943.34C224.4 942.21 217.76 940.24 212.12 938.83C206.48 937.42 200.83 935.91 195.19 934.88C189.55 933.85 184.85 933.28 178.27 932.62C171.69 931.97 162.28 931.59 155.7 930.93C149.12 930.27 143.1 929.61 138.78 928.67C134.45 927.73 132.19 926.61 129.75 925.29C127.3 923.97 125.99 922.19 124.11 920.78C122.23 919.37 120.72 917.92 118.47 916.83C116.21 915.74 116.21 914.7 110.57 914.23C104.93 913.76 88.94 914.04 84.61 914.01Z" fill="#2797eb" stroke="#000" stroke-width="1.35" stroke-linejoin="round"/>
<path d="M84.61 891.44C92.7 891.48 119.41 891.38 133.13 891.66C146.86 891.95 155.7 892.6 166.98 893.13C178.27 893.66 188.67 894.22 200.83 894.82C213 895.43 227.83 896.37 240 896.74C252.17 897.12 264.45 896.61 273.85 897.08C283.25 897.55 288.9 898.62 296.42 899.56C303.94 900.5 311.46 901.63 318.98 902.72C326.51 903.81 334.72 905.07 341.55 906.11C348.39 907.14 354.1 907.89 360 908.93C365.9 909.96 371.28 911.09 376.93 912.31C382.57 913.54 389.15 914.85 393.85 916.26C398.55 917.67 401.75 919.08 405.13 920.78C408.52 922.47 411.15 924.72 414.16 926.42C417.17 928.11 419.99 929.52 423.19 930.93C426.38 932.34 429.77 933.94 433.34 934.88C436.92 935.82 440.3 936.06 444.63 936.57C448.95 937.08 454.59 938.02 459.29 937.93C464 937.83 467.76 936.7 472.83 936.01C477.91 935.31 483.55 934.41 489.76 933.75C495.97 933.09 505.46 931.4 510.07 932.06C514.68 932.72 517.22 935.16 517.4 937.7C517.59 940.24 513.93 946.07 511.2 947.29C508.47 948.51 505.56 945.98 501.04 945.04C496.53 944.09 488.82 942.59 484.12 941.65C479.42 940.71 476.97 939.94 472.83 939.39C468.7 938.85 464 938.38 459.29 938.38C454.59 938.38 448.95 938.85 444.63 939.39C440.3 939.94 436.92 940.24 433.34 941.65C429.77 943.06 426.57 945.79 423.19 947.86C419.8 949.92 416.98 953.22 413.03 954.06C409.08 954.91 403.63 953.03 399.49 952.93C395.35 952.84 391.41 952.84 388.21 953.5C385.01 954.16 383.13 955.57 380.31 956.88C377.49 958.2 374.67 959.89 371.28 961.4C367.9 962.9 364.02 964.24 360 965.91C355.98 967.58 351.21 969.2 347.19 971.44C343.18 973.68 339.67 977.27 335.91 979.34C332.15 981.41 329.33 982.16 324.63 983.85C319.92 985.54 312.03 987.8 307.7 989.49C303.38 991.18 301.5 992.31 298.67 994.01C295.85 995.7 294.91 997.95 290.78 999.65C286.64 1001.34 279.49 1002.66 273.85 1004.16C268.21 1005.67 261.06 1007.17 256.93 1008.67C252.79 1010.18 251.85 1011.68 249.03 1013.19C246.21 1014.69 242.39 1016.72 240 1017.7C237.61 1018.68 237.45 1018.19 234.69 1019.08C231.92 1019.97 227.16 1021.81 223.4 1023.03C219.64 1024.25 215.32 1025.29 212.12 1026.42C208.92 1027.55 206.85 1028.3 204.22 1029.8C201.59 1031.31 198.77 1033.94 196.32 1035.44C193.88 1036.95 192.56 1037.7 189.55 1038.83C186.54 1039.96 182.03 1041.18 178.27 1042.21C174.51 1043.25 170.75 1044.09 166.98 1045.04C163.22 1045.98 158.9 1046.82 155.7 1047.86C152.5 1048.89 150.06 1049.74 147.8 1051.24C145.55 1052.75 144.61 1055.47 142.16 1056.88C139.72 1058.29 136.52 1058.86 133.13 1059.7C129.75 1060.55 125.24 1061.49 121.85 1061.96C118.47 1062.43 115.46 1062.81 112.82 1062.52C110.19 1062.24 107.65 1061.3 106.05 1060.27C104.46 1059.23 103.42 1057.73 103.23 1056.32C103.04 1054.91 103.7 1053.31 104.93 1051.81C106.15 1050.3 107.75 1048.89 110.57 1047.29C113.39 1045.69 119.03 1044 121.85 1042.21C124.67 1040.43 125.61 1038.45 127.49 1036.57C129.37 1034.69 130.69 1032.62 133.13 1030.93C135.58 1029.24 138.78 1027.73 142.16 1026.42C145.55 1025.1 150.44 1024.54 153.44 1023.03C156.45 1021.53 157.96 1019.18 160.21 1017.39C162.47 1015.6 163.98 1013.82 166.98 1012.31C169.99 1010.81 174.51 1009.59 178.27 1008.36C182.03 1007.14 185.79 1006.2 189.55 1004.98C193.31 1003.76 197.45 1002.82 200.83 1001.03C204.22 999.24 207.04 995.86 209.86 994.26C212.68 992.66 214.56 992.66 217.76 991.44C220.96 990.22 225.28 988.24 229.04 986.93C232.8 985.61 237.37 984.43 240.33 983.54C243.28 982.65 244.57 982.67 246.77 981.59C248.97 980.52 250.91 978.58 253.54 977.08C256.17 975.58 259.18 973.79 262.57 972.57C265.95 971.34 270.09 970.87 273.85 969.75C277.61 968.62 281.75 967.21 285.13 965.8C288.52 964.39 291.9 962.69 294.16 961.28C296.42 959.87 298.3 958.26 298.67 957.33C299.05 956.41 298.3 956.96 296.42 955.75C294.54 954.55 291.15 952.09 287.39 950.11C283.63 948.14 278.93 945.88 273.85 943.91C268.77 941.93 262.57 939.9 256.93 938.27C251.28 936.63 243.71 934.94 240 934.09C236.29 933.24 239.33 934 234.69 933.19C230.04 932.38 219.64 930.37 212.12 929.24C204.6 928.11 197.07 927.17 189.55 926.42C182.03 925.67 173.57 925.38 166.98 924.72C160.4 924.07 155.14 923.31 150.06 922.47C144.98 921.62 139.9 920.87 136.52 919.65C133.13 918.43 132.19 916.54 129.75 915.13C127.3 913.72 125.05 912.28 121.85 911.18C118.65 910.09 116.77 909.06 110.57 908.59C104.36 908.12 88.94 908.4 84.61 908.36Z" fill="#00b9c7" stroke="#000" stroke-width="1.35" stroke-linejoin="round"/>
<path d="M84.61 896.74C92.7 896.8 119.41 896.84 133.13 897.08C146.86 897.32 158.52 897.87 166.98 898.21C175.45 898.55 180.15 898.27 183.91 899.11C187.67 899.96 187.11 901.84 189.55 903.29C192 904.73 194.82 906.67 198.58 907.8C202.34 908.93 206.1 909.44 212.12 910.06C218.14 910.68 230.04 911.2 234.69 911.52C239.33 911.84 233.47 912.13 240 911.97C246.53 911.82 264.45 910.62 273.85 910.62C283.25 910.62 288.9 911.5 296.42 911.97C303.94 912.44 311.46 912.91 318.98 913.44C326.51 913.97 334.72 914.57 341.55 915.13C348.39 915.7 354.1 916.17 360 916.83C365.9 917.48 371.85 918.05 376.93 919.08C382 920.12 386.89 921.62 390.47 923.03C394.04 924.44 395.54 925.85 398.36 927.55C401.18 929.24 404.01 931.5 407.39 933.19C410.78 934.88 418.11 936.2 418.67 937.7C419.24 939.21 413.03 940.33 410.78 942.21C408.52 944.09 407.95 947.57 405.13 948.98C402.31 950.39 397.61 950.02 393.85 950.68C390.09 951.34 386.33 951.81 382.57 952.93C378.81 954.06 375.04 956.04 371.28 957.45C367.52 958.86 362.13 960.47 360 961.4C357.87 962.32 361.55 962.24 358.48 962.98C355.4 963.71 347.38 964.67 341.55 965.8C335.72 966.93 326.51 969.09 323.5 969.75C322.93 970.22 320.87 971.34 320.11 972.57C319.36 973.79 319.17 976.33 318.98 977.08C317.1 977.55 311.46 978.96 307.7 979.9C303.94 980.84 299.8 981.5 296.42 982.72C293.03 983.94 288.9 986.48 287.39 987.24C285.04 987.31 275.64 987.61 273.29 987.69C273.34 985.92 273.57 978.85 273.62 977.08C275.54 976.61 281.34 975.11 285.13 974.26C288.93 973.41 292.66 972.94 296.42 972C300.18 971.06 304.88 969.84 307.7 968.62C310.52 967.4 311.84 966.27 313.34 964.67C314.85 963.07 316.45 961.47 316.73 959.03C317.01 956.58 315.32 951.67 315.04 950C314.75 948.33 315.13 950.66 315.04 948.98C314.94 947.31 314.94 942.21 314.47 939.96C314 937.7 314.28 936.57 312.21 935.44C310.15 934.32 306.57 934.13 302.06 933.19C297.55 932.25 291.72 931.12 285.13 929.8C278.55 928.49 270.09 926.57 262.57 925.29C255.04 924.01 244.65 922.66 240 922.13C235.35 921.6 239.33 922.36 234.69 922.13C230.04 921.9 219.64 921.19 212.12 920.78C204.6 920.36 195.95 920.02 189.55 919.65C183.16 919.27 177.52 919.55 173.75 918.52C169.99 917.48 169.99 915.23 166.98 913.44C163.98 911.65 160.4 909.21 155.7 907.8C151 906.39 145.36 905.79 138.78 904.98C132.19 904.17 125.24 903.32 116.21 902.95C107.18 902.57 89.88 902.76 84.61 902.72Z" fill="#48cb86" stroke="#000" stroke-width="1.35" stroke-linejoin="round"/>
<path d="M110.57 1054.06C111.32 1053.5 113.2 1052.56 115.08 1052.37C116.96 1052.18 119.97 1052.56 121.85 1052.93C123.73 1053.31 126.36 1053.97 126.36 1054.63C126.36 1055.28 124.11 1056.41 121.85 1056.88C119.59 1057.35 114.7 1057.64 112.82 1057.45C110.94 1057.26 110.94 1056.32 110.57 1055.75C110.19 1055.19 109.81 1054.63 110.57 1054.06Z" fill="#48cb86" stroke="#000" stroke-width="1.35" stroke-linejoin="round"/>
<path d="M137.65 1036.01C139.72 1035.07 147.24 1034.32 151.19 1033.19C155.14 1032.06 157.77 1029.8 161.34 1029.24C164.92 1028.67 169.81 1029.14 172.63 1029.8C175.45 1030.46 177.33 1032.15 178.27 1033.19C179.21 1034.22 180.15 1035.16 178.27 1036.01C176.39 1036.85 171.5 1037.8 166.98 1038.27C162.47 1038.74 155.89 1038.74 151.19 1038.83C146.49 1038.92 141.03 1039.3 138.78 1038.83C136.52 1038.36 135.58 1036.95 137.65 1036.01Z" fill="#48cb86" stroke="#000" stroke-width="1.35" stroke-linejoin="round"/>
<path d="M182.78 1016.26C184.85 1015.04 191.81 1015.42 196.32 1014.57C200.83 1013.72 206.1 1011.65 209.86 1011.18C213.62 1010.71 216.91 1011.09 218.89 1011.75C220.86 1012.41 221.9 1014.1 221.71 1015.13C221.52 1016.17 220.3 1017.3 217.76 1017.95C215.22 1018.61 210.24 1018.52 206.48 1019.08C202.72 1019.65 198.39 1020.31 195.19 1021.34C192 1022.37 189.18 1025.2 187.29 1025.29C185.41 1025.38 184.66 1023.41 183.91 1021.9C183.16 1020.4 180.71 1017.48 182.78 1016.26Z" fill="#48cb86" stroke="#000" stroke-width="1.35" stroke-linejoin="round"/>
<path d="M272.71 988.62C272.8 989.9 273.18 995.01 273.28 996.29C271.49 996.76 266.22 998.45 262.56 999.11C258.89 999.77 255.03 999.96 251.27 1000.24C247.51 1000.52 242.75 1000.39 239.99 1000.8C237.22 1001.22 236.23 1003.34 234.69 1002.72C233.14 1002.1 229.85 998.53 230.74 997.08C231.62 995.63 234.69 995.39 239.99 994.03C245.29 992.68 257.1 989.86 262.56 988.96C268.01 988.05 271.02 988.67 272.71 988.62Z" fill="#48cb86" stroke="#000" stroke-width="1.35" stroke-linejoin="round"/>
<path d="M352.83 925.29C357.16 924.57 365.75 924.61 369.76 924.39C373.78 924.16 373.85 923.78 376.93 923.94C380 924.09 384.82 924.12 388.21 925.29C391.59 926.46 394.23 928.86 397.24 930.93C400.24 933 405.51 935.63 406.26 937.7C407.01 939.77 404.19 941.84 401.75 943.34C399.3 944.85 395.73 945.79 391.59 946.73C387.46 947.67 380.94 947.95 376.93 948.98C372.91 950.02 370.01 951.71 367.5 952.93C364.99 954.16 365.43 955.75 361.86 956.32C358.29 956.88 349.54 956.79 346.06 956.32C342.59 955.85 342.12 955.1 340.99 953.5C339.86 951.9 339.48 949.74 339.29 946.73C339.11 943.72 339.11 938.45 339.86 935.44C340.61 932.44 341.65 930.37 343.81 928.67C345.97 926.98 348.51 926 352.83 925.29Z" fill="#bbc42f" stroke="#000" stroke-width="1.35" stroke-linejoin="round"/>
<path d="M352.83 937.7C353.21 936.01 355.66 934.41 358.48 933.19C361.3 931.97 366.69 931.02 369.76 930.37C372.83 929.71 373.85 929.24 376.93 929.24C380 929.24 385.39 929.71 388.21 930.37C391.03 931.02 391.97 931.97 393.85 933.19C395.73 934.41 399.12 936.29 399.49 937.7C399.87 939.11 397.99 940.62 396.11 941.65C394.23 942.68 391.41 943.44 388.21 943.91C385.01 944.38 379.06 944.19 376.93 944.47C374.79 944.75 377.91 945.22 375.4 945.6C372.89 945.98 365.06 947.1 361.86 946.73C358.66 946.35 357.72 944.85 356.22 943.34C354.72 941.84 352.46 939.39 352.83 937.7Z" fill="#fec735" stroke="#000" stroke-width="1.35" stroke-linejoin="round"/>
<path d="M366.21 938.27C366.21 937.63 368.56 936.63 370.16 936.35C371.75 936.06 374.86 935.93 375.8 936.57C376.74 937.21 376.74 939.58 375.8 940.18C374.86 940.79 371.75 940.5 370.16 940.18C368.56 939.86 366.21 938.9 366.21 938.27Z" fill="#7a7a10" stroke="#000" stroke-width="2.2" stroke-linejoin="round"/>
<g transform="translate(0 0)">
<rect x="376.8" y="936.19" width="23.05" height="4.6" rx="2.3" fill="#ff6400" stroke="#f41a00" stroke-width="2"/>
</g>
</g>
<path d="M92.82 928.9L107.82 928.9M96.18 924.76L104.46 933.03M100.32 921.4L100.32 936.4M104.46 924.76L96.18 933.03" stroke="#fff" stroke-width="1.6" fill="none" stroke-linecap="butt"/>
<path d="M92.82 1040.54L107.82 1040.54M96.18 1036.41L104.46 1044.68M100.32 1033.04L100.32 1048.04M104.46 1036.41L96.18 1044.68" stroke="#fff" stroke-width="1.6" fill="none" stroke-linecap="butt"/>
<path d="M541.98 928.9L556.98 928.9M545.34 924.76L553.62 933.03M549.48 921.4L549.48 936.4M553.62 924.76L545.34 933.03" stroke="#fff" stroke-width="1.6" fill="none" stroke-linecap="butt"/>
<rect x="88.5" y="705.6" width="472.8" height="465.2" fill="none" stroke="#1e1e1e" stroke-width="1.45"/>
<path d="M88.5 1170.8v-5M88.5 705.6v5M206.7 1170.8v-5M206.7 705.6v5M324.9 1170.8v-5M324.9 705.6v5M443.1 1170.8v-5M443.1 705.6v5M561.3 1170.8v-5M561.3 705.6v5M88.5 1170.8h5M561.3 1170.8h-5M88.5 1077.76h5M561.3 1077.76h-5M88.5 984.72h5M561.3 984.72h-5M88.5 891.68h5M561.3 891.68h-5M88.5 798.64h5M561.3 798.64h-5M88.5 705.6h5M561.3 705.6h-5" stroke="#1e1e1e" stroke-width="1.1" fill="none"/>
<text class="t" transform="translate(88.5 1210.8) scale(1 1)" font-family='"Liberation Sans", Arial, sans-serif' font-size="26.64" font-weight="bold" text-anchor="middle" fill="#262626">0</text>
<text class="t" transform="translate(206.7 1210.8) scale(1 1)" font-family='"Liberation Sans", Arial, sans-serif' font-size="26.64" font-weight="bold" text-anchor="middle" fill="#262626">5</text>
<text class="t" transform="translate(324.9 1210.8) scale(1 1)" font-family='"Liberation Sans", Arial, sans-serif' font-size="26.64" font-weight="bold" text-anchor="middle" fill="#262626">10</text>
<text class="t" transform="translate(443.1 1210.8) scale(1 1)" font-family='"Liberation Sans", Arial, sans-serif' font-size="26.64" font-weight="bold" text-anchor="middle" fill="#262626">15</text>
<text class="t" transform="translate(561.3 1210.8) scale(1 1)" font-family='"Liberation Sans", Arial, sans-serif' font-size="26.64" font-weight="bold" text-anchor="middle" fill="#262626">20</text>
<text class="t" transform="translate(78.3 1181.84) scale(1 1)" font-family='"Liberation Sans", Arial, sans-serif' font-size="26.64" font-weight="bold" text-anchor="end" fill="#262626">0</text>
<text class="t" transform="translate(78.3 1088.8) scale(1 1)" font-family='"Liberation Sans", Arial, sans-serif' font-size="26.64" font-weight="bold" text-anchor="end" fill="#262626">5</text>
<text class="t" transform="translate(78.3 995.76) scale(1 1)" font-family='"Liberation Sans", Arial, sans-serif' font-size="26.64" font-weight="bold" text-anchor="end" fill="#262626">10</text>
<text class="t" transform="translate(78.3 902.72) scale(1 1)" font-family='"Liberation Sans", Arial, sans-serif' font-size="26.64" font-weight="bold" text-anchor="end" fill="#262626">15</text>
<text class="t" transform="translate(78.3 809.68) scale(1 1)" font-family='"Liberation Sans", Arial, sans-serif' font-size="26.64" font-weight="bold" text-anchor="end" fill="#262626">20</text>
<text class="t" transform="translate(78.3 716.64) scale(1 1)" font-family='"Liberation Sans", Arial, sans-serif' font-size="26.64" font-weight="bold" text-anchor="end" fill="#262626">25</text>
<text class="t" transform="translate(324.9 1247.8) scale(1 1)" font-family='"Liberation Sans", Arial, sans-serif' font-size="30.39" font-weight="bold" text-anchor="middle" fill="#262626">Length(cm)</text>
<text class="t" transform="translate(34 938.2) rotate(-90) scale(1 1)" font-family='"Liberation Sans", Arial, sans-serif' font-size="30.39" font-weight="bold" text-anchor="middle" fill="#262626">Width (cm)</text>
<rect x="595.6" y="705.6" width="33.7" height="464" fill="url(#parula)"/>
<rect x="595.6" y="705.6" width="33.7" height="464" fill="none" stroke="#1e1e1e" stroke-width="1.45"/>
<text class="t" transform="translate(641 1150.47) scale(1 1)" font-family='"Liberation Sans", Arial, sans-serif' font-size="23.7" font-weight="bold" text-anchor="start" fill="#262626">-0.1</text>
<text class="t" transform="translate(641 1088.28) scale(1 1)" font-family='"Liberation Sans", Arial, sans-serif' font-size="23.7" font-weight="bold" text-anchor="start" fill="#262626">0</text>
<text class="t" transform="translate(641 1026.08) scale(1 1)" font-family='"Liberation Sans", Arial, sans-serif' font-size="23.7" font-weight="bold" text-anchor="start" fill="#262626">0.1</text>
<text class="t" transform="translate(641 963.88) scale(1 1)" font-family='"Liberation Sans", Arial, sans-serif' font-size="23.7" font-weight="bold" text-anchor="start" fill="#262626">0.2</text>
<text class="t" transform="translate(641 901.68) scale(1 1)" font-family='"Liberation Sans", Arial, sans-serif' font-size="23.7" font-weight="bold" text-anchor="start" fill="#262626">0.3</text>
<text class="t" transform="translate(641 839.48) scale(1 1)" font-family='"Liberation Sans", Arial, sans-serif' font-size="23.7" font-weight="bold" text-anchor="start" fill="#262626">0.4</text>
<text class="t" transform="translate(641 777.28) scale(1 1)" font-family='"Liberation Sans", Arial, sans-serif' font-size="23.7" font-weight="bold" text-anchor="start" fill="#262626">0.5</text>
<text class="t" transform="translate(641 715.09) scale(1 1)" font-family='"Liberation Sans", Arial, sans-serif' font-size="23.7" font-weight="bold" text-anchor="start" fill="#262626">0.6</text>
<path d="M629.3 1140.99h-4M629.3 1078.79h-4M629.3 1016.59h-4M629.3 954.39h-4M629.3 892.2h-4M629.3 830h-4M629.3 767.8h-4M629.3 705.6h-4" stroke="#262626" stroke-width="1" fill="none"/>
<text x="356.8" y="1306.4" font-family='"Liberation Serif", "Times New Roman", serif' font-size="42.7" text-anchor="middle" fill="#000"><tspan font-weight="bold">(c)</tspan> Case 2 (subcase 1)</text>
<rect x="852.6" y="705.2" width="484.8" height="466.2" fill="#0000ff"/>
<path d="M857.72 928.98L871.72 928.98M860.86 925.12L868.58 932.84M864.72 921.98L864.72 935.98M868.58 925.12L860.86 932.84" stroke="#fff" stroke-width="1.6" fill="none" stroke-linecap="butt"/>
<path d="M857.72 1040.86L871.72 1040.86M860.86 1037L868.58 1044.72M864.72 1033.86L864.72 1047.86M868.58 1037L860.86 1044.72" stroke="#fff" stroke-width="1.6" fill="none" stroke-linecap="butt"/>
<path d="M1318.28 928.98L1332.28 928.98M1321.42 925.12L1329.14 932.84M1325.28 921.98L1325.28 935.98M1329.14 925.12L1321.42 932.84" stroke="#fff" stroke-width="1.6" fill="none" stroke-linecap="butt"/>
<path d="M1136.04 937.49L1139.75 936.15L1146.66 935.66L1150.11 934.03L1158.5 933.39L1159.74 931.81L1161.96 934.03L1162.45 935.36L1165.91 935.36L1165.91 940.2L1159.49 941.68L1146.66 940.6L1139.75 939.61Z" fill="#ffff00" transform="translate(0 0)"/>
<g transform="translate(0 0)">
<rect x="1146.9" y="935.3" width="26.4" height="6.4" rx="3.2" fill="#c0004c"/>
<rect x="1146.9" y="935.3" width="19.3" height="6.4" rx="3.2" fill="#ff3c00"/>
<rect x="1149.5" y="937" width="15.1" height="3" rx="1.4" fill="#ff7800"/>
<rect x="1170.3" y="935.9" width="2" height="5.2" rx="1" fill="#ff0000"/>
</g>
<text class="t" transform="translate(854.2 1210.8) scale(1 1)" font-family='"Liberation Sans", Arial, sans-serif' font-size="26.96" font-weight="bold" text-anchor="middle" fill="#262626">0</text>
<text class="t" transform="translate(975 1210.8) scale(1 1)" font-family='"Liberation Sans", Arial, sans-serif' font-size="26.96" font-weight="bold" text-anchor="middle" fill="#262626">5</text>
<text class="t" transform="translate(1095.8 1210.8) scale(1 1)" font-family='"Liberation Sans", Arial, sans-serif' font-size="26.96" font-weight="bold" text-anchor="middle" fill="#262626">10</text>
<text class="t" transform="translate(1216.6 1210.8) scale(1 1)" font-family='"Liberation Sans", Arial, sans-serif' font-size="26.96" font-weight="bold" text-anchor="middle" fill="#262626">15</text>
<text class="t" transform="translate(1337.4 1210.8) scale(1 1)" font-family='"Liberation Sans", Arial, sans-serif' font-size="26.96" font-weight="bold" text-anchor="middle" fill="#262626">20</text>
<text class="t" transform="translate(842.8 1181.95) scale(1 1)" font-family='"Liberation Sans", Arial, sans-serif' font-size="26.96" font-weight="bold" text-anchor="end" fill="#262626">0</text>
<text class="t" transform="translate(842.8 1088.91) scale(1 1)" font-family='"Liberation Sans", Arial, sans-serif' font-size="26.96" font-weight="bold" text-anchor="end" fill="#262626">5</text>
<text class="t" transform="translate(842.8 995.87) scale(1 1)" font-family='"Liberation Sans", Arial, sans-serif' font-size="26.96" font-weight="bold" text-anchor="end" fill="#262626">10</text>
<text class="t" transform="translate(842.8 902.83) scale(1 1)" font-family='"Liberation Sans", Arial, sans-serif' font-size="26.96" font-weight="bold" text-anchor="end" fill="#262626">15</text>
<text class="t" transform="translate(842.8 809.79) scale(1 1)" font-family='"Liberation Sans", Arial, sans-serif' font-size="26.96" font-weight="bold" text-anchor="end" fill="#262626">20</text>
<text class="t" transform="translate(842.8 716.75) scale(1 1)" font-family='"Liberation Sans", Arial, sans-serif' font-size="26.96" font-weight="bold" text-anchor="end" fill="#262626">25</text>
<text class="t" transform="translate(1095.8 1247.6) scale(1.05 1)" font-family='"Liberation Sans", Arial, sans-serif' font-size="29.21" font-weight="bold" text-anchor="middle" fill="#262626">Length(cm)</text>
<text class="t" transform="translate(797.4 938.2) rotate(-90) scale(1.05 1)" font-family='"Liberation Sans", Arial, sans-serif' font-size="29.21" font-weight="bold" text-anchor="middle" fill="#262626">Width (cm)</text>
<rect x="1371.3" y="706.1" width="35.5" height="232.3" fill="#ffff00"/>
<rect x="1371.3" y="938.4" width="35.5" height="231.6" fill="#0000ff"/>
<rect x="1371.3" y="706.1" width="35.5" height="463.9" fill="none" stroke="#1e1e1e" stroke-width="1.45"/>
<text class="t" transform="translate(1418.8 715.69) scale(1 1)" font-family='"Liberation Sans", Arial, sans-serif' font-size="23.98" font-weight="bold" text-anchor="start" fill="#262626">1</text>
<text class="t" transform="translate(1418.8 1179.59) scale(1 1)" font-family='"Liberation Sans", Arial, sans-serif' font-size="23.98" font-weight="bold" text-anchor="start" fill="#262626">0</text>
<text x="1111.2" y="1306.4" font-family='"Liberation Serif", "Times New Roman", serif' font-size="42.7" text-anchor="middle" fill="#000"><tspan font-weight="bold">(d)</tspan> Case 2 (subcase 1) threshold</text>
<rect x="88.5" y="1384.6" width="472.8" height="465.2" fill="#4367fd"/>
<clipPath id="clip1"><rect x="88.5" y="1380.6" width="472.8" height="472.2"/></clipPath>
<g clip-path="url(#clip1)">
<path d="M247.94 1382.4L247.94 1384.57C248.08 1387.48 248.08 1396.28 248.79 1402C249.5 1407.73 251.05 1413.29 252.17 1418.93C253.3 1424.57 254.43 1431.62 255.56 1435.85C256.69 1440.08 257.25 1441.5 258.94 1444.32C260.64 1447.14 263.74 1449.39 265.72 1452.78C267.69 1456.16 269.1 1459.83 270.79 1464.63C272.49 1469.42 274.46 1477.04 275.87 1481.55C277.28 1486.06 277.7 1488.32 279.26 1491.71C280.81 1495.09 283.49 1498.19 285.18 1501.86C286.87 1505.53 288 1509.76 289.41 1513.71C290.82 1517.66 291.95 1522.31 293.64 1525.56C295.33 1528.8 296.6 1530.92 299.57 1533.17C302.53 1535.43 309.44 1538.11 311.41 1539.1L312.46 1539.1L312.46 1539.1L312.46 1558.56L328 1558.56C330.82 1558.76 339.57 1559.04 344.93 1559.75C350.28 1560.45 355.93 1561.44 360.16 1562.79C364.39 1564.15 367.21 1565.75 370.31 1567.87C373.42 1569.99 375.11 1573.37 378.78 1575.49C382.44 1577.6 386.67 1579.15 392.32 1580.56C397.96 1581.97 405.01 1582.68 412.63 1583.95C420.24 1585.22 430.12 1586.91 438.01 1588.18C445.91 1589.45 454.38 1590.3 460.02 1591.57C465.66 1592.83 467.92 1594.53 471.86 1595.8C475.81 1597.07 479.48 1598.62 483.71 1599.18C487.94 1599.75 492.65 1599.46 497.25 1599.18C501.85 1598.9 508.96 1597.77 511.3 1597.49L511.53 1597.49L511.53 1597.49L511.53 1559.05L486.65 1559.05L486.65 1520.28L461.76 1520.28L461.76 1481.52L436.88 1481.52L436.88 1462.13L411.99 1462.13L411.99 1423.37L387.11 1423.37L387.11 1403.98L362.23 1403.98L362.23 1382.4Z" fill="#4538d7" stroke="#000" stroke-width="1.35" stroke-linejoin="round"/>
<path d="M287.57 1382.4V1403.98" fill="none" stroke="#000" stroke-width="1.35" stroke-linejoin="round"/>
<path d="M328 1405.39C331.05 1407.22 333.64 1407.93 336.46 1410.47C339.28 1413 342.39 1417.52 344.93 1420.62C347.46 1423.72 348.87 1426.54 351.7 1429.08C354.52 1431.62 359.03 1433.03 361.85 1435.85C364.67 1438.67 366.36 1442.91 368.62 1446.01C370.88 1449.11 372.57 1451.37 375.39 1454.47C378.21 1457.57 382.44 1460.96 385.55 1464.63C388.65 1468.29 391.47 1472.81 394.01 1476.47C396.55 1480.14 397.68 1482.68 400.78 1486.63C403.88 1490.58 409.52 1495.66 412.63 1500.17C415.73 1504.68 416.86 1509.48 419.4 1513.71C421.94 1517.94 424.76 1521.61 427.86 1525.56C430.96 1529.51 435.19 1533.17 438.01 1537.4C440.83 1541.64 442.25 1546.43 444.78 1550.94C447.32 1555.46 450.14 1560.54 453.25 1564.49C456.35 1568.43 461.85 1572.24 463.4 1574.64C464.95 1577.04 465.38 1577.74 462.56 1578.87C459.73 1580 451.98 1580.85 446.48 1581.41C440.98 1581.97 435.76 1582.4 429.55 1582.26C423.35 1582.12 413.75 1581.55 409.24 1580.56C404.73 1579.58 404.73 1578.45 402.47 1576.33C400.21 1574.22 398.52 1570.27 395.7 1567.87C392.88 1565.47 388.37 1563.92 385.55 1561.95C382.72 1559.97 380.75 1558.98 378.78 1556.02C376.8 1553.06 375.95 1548.12 373.7 1544.17C371.44 1540.23 367.77 1535.99 365.24 1532.33C362.7 1528.66 360.16 1525.84 358.47 1522.17C356.77 1518.5 356.77 1514.56 355.08 1510.32C353.39 1506.09 351.13 1501.58 348.31 1496.78C345.49 1491.99 340.69 1486.35 338.16 1481.55C335.62 1476.76 334.77 1473.09 333.08 1468.01C331.39 1462.93 329.35 1455.32 328 1451.09C326.65 1446.85 325.88 1445.44 324.95 1442.62C324.02 1439.8 323.54 1436.98 322.41 1434.16C321.29 1431.34 320.02 1428.1 318.18 1425.7C316.35 1423.3 313.11 1422.03 311.41 1419.77C309.72 1417.52 309.02 1414.84 308.03 1412.16C307.04 1409.48 304.93 1405.95 305.49 1403.7C306.05 1401.44 309.3 1399.32 311.41 1398.62C313.53 1397.91 315.42 1398.34 318.18 1399.46C320.95 1400.59 324.95 1403.55 328 1405.39Z" fill="#3e26a8" stroke="#000" stroke-width="1.35" stroke-linejoin="round"/>
<path d="M565 1655.97L536.42 1655.97L536.42 1647.17L510.79 1647.17L510.79 1647.17C508.54 1646.88 502.33 1646.18 497.25 1645.47C492.17 1644.77 485.97 1643.36 480.33 1642.93C474.69 1642.51 469.04 1642.51 463.4 1642.93C457.76 1643.36 451.55 1644.2 446.48 1645.47C441.4 1646.74 437.31 1648.58 432.94 1650.55C428.56 1652.52 422.36 1656.19 420.24 1657.32C420.67 1658.31 421.51 1661.13 422.78 1663.24C424.05 1665.36 425.6 1667.76 427.86 1670.01C430.12 1672.27 434.35 1673.12 436.32 1676.78C438.3 1680.45 438.58 1687.22 439.71 1692.02C440.83 1696.81 441.4 1702.17 443.09 1705.56C444.78 1708.94 446.76 1710.78 449.86 1712.33C452.96 1713.88 459.73 1714.44 461.71 1714.87C460.58 1716.42 457.48 1721.5 454.94 1724.17C452.4 1726.85 449.58 1728.69 446.48 1730.94C443.37 1733.2 438.16 1732.36 436.32 1737.72C434.49 1743.07 435.48 1754.02 435.48 1763.1C435.48 1772.19 436.18 1787.36 436.32 1792.21L436.88 1791.65L436.88 1791.65L461.76 1791.65L461.76 1772.27L536.42 1772.27L536.42 1752.88L565 1752.88Z" fill="#4538d7" stroke="#000" stroke-width="1.35" stroke-linejoin="round"/>
<path d="M451.55 1656.47C452.96 1655.06 458.61 1653.94 463.4 1653.09C468.2 1652.24 474.69 1651.4 480.33 1651.4C485.97 1651.4 492.74 1652.24 497.25 1653.09C501.77 1653.94 504.59 1653.94 507.41 1656.47C510.23 1659.01 512.2 1663.81 514.18 1668.32C516.15 1672.83 517.56 1678.48 519.26 1683.55C520.95 1688.63 522.36 1693.99 524.33 1698.79C526.31 1703.58 528.85 1708.66 531.1 1712.33C533.36 1715.99 536.04 1717.4 537.87 1720.79C539.71 1724.17 542.1 1729.82 542.1 1732.64C542.1 1735.46 539.71 1736.87 537.87 1737.72C536.04 1738.56 533.92 1738.56 531.1 1737.72C528.28 1736.87 524.33 1734.61 520.95 1732.64C517.56 1730.66 513.9 1728.12 510.79 1725.87C507.69 1723.61 504.87 1721.92 502.33 1719.1C499.79 1716.28 498.38 1712.05 495.56 1708.94C492.74 1705.84 488.23 1703.58 485.4 1700.48C482.58 1697.38 481.17 1693.71 478.63 1690.32C476.1 1686.94 473.28 1683.55 470.17 1680.17C467.07 1676.78 462.56 1673.12 460.02 1670.01C457.48 1666.91 456.35 1663.81 454.94 1661.55C453.53 1659.29 450.14 1657.88 451.55 1656.47Z" fill="#3e26a8" stroke="#000" stroke-width="1.35" stroke-linejoin="round"/>
<path d="M80 1752.88L165.95 1752.88L164.95 1762.57L163.15 1772.27L80 1772.27Z" fill="#4538d7" stroke="#000" stroke-width="1.35" stroke-linejoin="round"/>
<path d="M286.87 1792.21C286.59 1787.36 285.46 1772.19 285.18 1763.1C284.9 1754.02 284.9 1746.6 285.18 1737.72C285.46 1728.83 286.59 1714.44 286.87 1709.79C288.99 1709.08 296.32 1707.11 299.57 1705.56C302.81 1704.01 304.22 1702.26 306.34 1700.48C308.45 1698.7 311.27 1695.83 312.26 1694.89L362.23 1694.73L362.23 1694.73L362.7 1694.89C362.7 1697.8 362.5 1703.78 362.7 1712.33C362.89 1720.87 363.88 1734.89 363.88 1746.18C363.88 1757.46 363.04 1772.36 362.7 1780.03C362.36 1787.7 361.99 1790.18 361.85 1792.21Z" fill="#4538d7" stroke="#000" stroke-width="1.35" stroke-linejoin="round"/>
<path d="M86.31 1564.23C95.05 1564.15 124.84 1563.75 138.78 1563.72C152.71 1563.7 159.09 1564.15 169.92 1564.06C180.75 1563.98 192.49 1563.22 203.77 1563.22C215.05 1563.22 226.34 1563.55 237.62 1564.06C248.9 1564.57 260.19 1565.5 271.47 1566.26C282.75 1567.02 295.9 1567.98 305.32 1568.63C314.74 1569.28 321.4 1569.48 328 1570.16C334.6 1570.83 339.28 1571.57 344.93 1572.69C350.57 1573.82 356.21 1575.09 361.85 1576.93C367.49 1578.76 373.13 1581.72 378.78 1583.7C384.42 1585.67 390.06 1587.08 395.7 1588.77C401.34 1590.47 406.98 1592.3 412.63 1593.85C418.27 1595.4 423.91 1596.53 429.55 1598.08C435.19 1599.63 440.83 1601.83 446.48 1603.16C452.12 1604.49 457.76 1605.39 463.4 1606.04C469.04 1606.69 474.69 1607.11 480.33 1607.05C485.97 1607 492.17 1606.15 497.25 1605.7C502.33 1605.25 506.84 1604.06 510.79 1604.34C514.74 1604.63 518.27 1605.75 520.95 1607.39C523.63 1609.03 525.88 1611.62 526.87 1614.16C527.86 1616.7 527.86 1619.52 526.87 1622.62C525.88 1625.73 523.35 1630.18 520.95 1632.78C518.55 1635.37 516.43 1637.77 512.49 1638.19C508.54 1638.62 502.61 1636.36 497.25 1635.32C491.89 1634.27 486.53 1632.5 480.33 1631.93C474.12 1631.37 465.66 1631.51 460.02 1631.93C454.38 1632.36 450.99 1633.34 446.48 1634.47C441.96 1635.6 436.89 1637.15 432.94 1638.7C428.99 1640.25 426.17 1642.23 422.78 1643.78C419.4 1645.33 417.14 1647.73 412.63 1648.01C408.11 1648.29 401.34 1645.75 395.7 1645.47C390.06 1645.19 384.42 1645.61 378.78 1646.32C373.13 1647.02 366.65 1648.29 361.85 1649.7C357.06 1651.11 352.82 1653.09 350 1654.78C347.18 1656.47 347.18 1658.03 344.93 1659.86C342.67 1661.69 339.28 1663.95 336.46 1665.78C333.64 1667.62 331.33 1669.31 328 1670.86C324.67 1672.41 319.82 1673.54 316.49 1675.09C313.16 1676.64 312.26 1678.19 308.03 1680.17C303.8 1682.14 296.74 1684.54 291.1 1686.94C285.46 1689.34 278.41 1692.02 274.18 1694.56C269.95 1697.09 269.95 1700.06 265.72 1702.17C261.48 1704.29 254.43 1705.84 248.79 1707.25C243.15 1708.66 236.1 1709.22 231.86 1710.63C227.63 1712.05 226.22 1713.74 223.4 1715.71C220.58 1717.69 219.17 1720.79 214.94 1722.48C210.71 1724.17 203.37 1724.74 198.01 1725.87C192.65 1727 187.58 1728.12 182.78 1729.25C177.99 1730.38 173.19 1730.94 169.24 1732.64C165.29 1734.33 162.75 1737.43 159.09 1739.41C155.42 1741.38 152.03 1743.22 147.24 1744.49C142.44 1745.75 135.95 1746.46 130.31 1747.02C124.67 1747.59 118.47 1748.29 113.39 1747.87C108.31 1747.45 103.23 1746.18 99.85 1744.49C96.46 1742.79 94.21 1739.97 93.08 1737.72C91.95 1735.46 91.95 1733.48 93.08 1730.94C94.21 1728.41 97.03 1724.88 99.85 1722.48C102.67 1720.08 106.9 1718.53 110 1716.56C113.11 1714.58 115.36 1712.75 118.47 1710.63C121.57 1708.52 124.67 1705.84 128.62 1703.86C132.57 1701.89 138.49 1700.76 142.16 1698.79C145.83 1696.81 147.8 1694.27 150.62 1692.02C153.44 1689.76 155.42 1687.5 159.09 1685.25C162.75 1682.99 168.68 1680.45 172.63 1678.48C176.58 1676.5 179.4 1675.37 182.78 1673.4C186.17 1671.42 188.99 1668.46 192.94 1666.63C196.89 1664.8 201.96 1663.95 206.48 1662.4C210.99 1660.85 216.63 1659.01 220.02 1657.32C223.4 1655.63 224.25 1654.08 226.79 1652.24C229.33 1650.41 231.58 1647.87 235.25 1646.32C238.92 1644.77 243.71 1643.92 248.79 1642.93C253.87 1641.95 261.62 1641.38 265.72 1640.39C269.81 1639.41 272.49 1638.14 273.33 1637.01C274.18 1635.88 272.91 1634.75 270.79 1633.62C268.68 1632.5 265.72 1631.09 260.64 1630.24C255.56 1629.39 247.94 1629.11 240.33 1628.55C232.71 1627.98 221.99 1627.84 214.94 1626.85C207.89 1625.87 202.25 1624.03 198.01 1622.62C193.78 1621.21 193.78 1619.8 189.55 1618.39C185.32 1616.98 178.27 1615.43 172.63 1614.16C166.98 1612.89 161.91 1611.62 155.7 1610.78C149.5 1609.93 141.03 1610.35 135.39 1609.08C129.75 1607.81 125.24 1605.13 121.85 1603.16C118.47 1601.18 117.9 1598.79 115.08 1597.24C112.26 1595.68 109.72 1594.56 104.93 1593.85C100.13 1593.15 89.41 1593.15 86.31 1593Z" fill="#2797eb" stroke="#000" stroke-width="1.35" stroke-linejoin="round"/>
<path d="M86.31 1571C95.05 1571 124.84 1571.03 138.78 1571C152.71 1570.97 159.09 1570.94 169.92 1570.83C180.75 1570.72 192.49 1570.13 203.77 1570.32C215.05 1570.52 226.34 1571.09 237.62 1572.02C248.9 1572.95 260.19 1574.7 271.47 1575.91C282.75 1577.12 295.9 1578.39 305.32 1579.29C314.74 1580.2 321.4 1580.73 328 1581.33C334.6 1581.92 339.28 1581.89 344.93 1582.85C350.57 1583.81 356.21 1585.39 361.85 1587.08C367.49 1588.77 373.13 1591.03 378.78 1593C384.42 1594.98 390.62 1596.81 395.7 1598.93C400.78 1601.04 404.73 1603.72 409.24 1605.7C413.75 1607.67 418.83 1609.22 422.78 1610.78C426.73 1612.33 429.55 1613.96 432.94 1615.01C436.32 1616.05 439.71 1616.56 443.09 1617.04C446.48 1617.52 448.45 1618.08 453.25 1617.88C458.04 1617.69 465.94 1616.61 471.86 1615.85C477.79 1615.09 482.3 1614.16 488.79 1613.31C495.28 1612.47 505.72 1610.07 510.79 1610.78C515.87 1611.48 519.11 1614.72 519.26 1617.55C519.4 1620.37 515.31 1626.57 511.64 1627.7C507.97 1628.83 502.47 1625.44 497.25 1624.32C492.03 1623.19 485.4 1621.81 480.33 1620.93C475.25 1620.06 471.3 1619.49 466.79 1619.07C462.27 1618.65 458.32 1618.22 453.25 1618.39C448.17 1618.56 440.55 1618.53 436.32 1620.08C432.09 1621.64 431.24 1625.3 427.86 1627.7C424.47 1630.1 421.37 1632.78 416.01 1634.47C410.65 1636.16 401.91 1637.01 395.7 1637.86C389.5 1638.7 384.42 1638.42 378.78 1639.55C373.13 1640.68 366.65 1642.93 361.85 1644.63C357.06 1646.32 353.95 1647.45 350 1649.7C346.05 1651.96 341.82 1655.63 338.16 1658.17C334.49 1660.71 332.17 1662.96 328 1664.94C323.83 1666.91 317.84 1668.04 313.11 1670.01C308.37 1671.99 303.8 1674.67 299.57 1676.78C295.33 1678.9 292.51 1680.59 287.72 1682.71C282.92 1684.82 275.02 1687.22 270.79 1689.48C266.56 1691.73 266 1694.27 262.33 1696.25C258.66 1698.22 253.87 1699.77 248.79 1701.33C243.71 1702.88 236.38 1704.01 231.86 1705.56C227.35 1707.11 225.38 1708.66 221.71 1710.63C218.04 1712.61 213.81 1715.85 209.86 1717.4C205.91 1718.96 202.81 1718.96 198.01 1719.94C193.22 1720.93 186.17 1722.2 181.09 1723.33C176.01 1724.46 171.78 1725.16 167.55 1726.71C163.32 1728.27 159.65 1730.8 155.7 1732.64C151.75 1734.47 148.08 1736.45 143.85 1737.72C139.62 1738.98 135.39 1739.69 130.31 1740.25C125.24 1740.82 117.9 1741.66 113.39 1741.1C108.87 1740.54 105.07 1738.56 103.23 1736.87C101.4 1735.18 101.26 1733.06 102.39 1730.94C103.51 1728.83 107.04 1726.15 110 1724.17C112.96 1722.2 117.34 1721.07 120.16 1719.1C122.98 1717.12 123.83 1714.3 126.93 1712.33C130.03 1710.35 134.83 1708.94 138.78 1707.25C142.72 1705.56 147.24 1704.15 150.62 1702.17C154.01 1700.2 156.27 1697.66 159.09 1695.4C161.91 1693.15 163.6 1690.61 167.55 1688.63C171.5 1686.66 177.99 1685.53 182.78 1683.55C187.58 1681.58 192.37 1679.04 196.32 1676.78C200.27 1674.53 202.53 1671.99 206.48 1670.01C210.43 1668.04 215.79 1666.63 220.02 1664.94C224.25 1663.24 228.48 1661.55 231.86 1659.86C235.25 1658.17 237.51 1656.47 240.33 1654.78C243.15 1653.09 244.56 1651.4 248.79 1649.7C253.02 1648.01 260.07 1646.32 265.72 1644.63C271.36 1642.93 279.11 1641.24 282.64 1639.55C286.17 1637.86 286.87 1636.16 286.87 1634.47C286.87 1632.78 284.76 1630.94 282.64 1629.39C280.52 1627.84 278.41 1626.29 274.18 1625.16C269.95 1624.03 262.89 1623.33 257.25 1622.62C251.61 1621.92 245.97 1621.64 240.33 1620.93C234.69 1620.23 229.04 1619.38 223.4 1618.39C217.76 1617.4 212.12 1616.56 206.48 1615.01C200.83 1613.46 195.19 1610.63 189.55 1609.08C183.91 1607.53 178.27 1606.83 172.63 1605.7C166.98 1604.57 161.34 1603.02 155.7 1602.31C150.06 1601.61 142.72 1602.03 138.78 1601.47C134.83 1600.9 134.83 1600.48 132.01 1598.93C129.18 1597.38 126.36 1593.91 121.85 1592.16C117.34 1590.41 110.85 1589.14 104.93 1588.43C99 1587.73 89.41 1588.01 86.31 1587.93Z" fill="#00b9c7" stroke="#000" stroke-width="1.35" stroke-linejoin="round"/>
<path d="M86.31 1576.08C95.05 1576.16 124.84 1576.42 138.78 1576.59C152.71 1576.76 159.09 1577.01 169.92 1577.09C180.75 1577.18 193.42 1576.81 203.77 1577.09C214.12 1577.38 224.5 1577.86 232.03 1578.79C239.57 1579.72 242.39 1581.27 248.96 1582.68C255.53 1584.09 263.94 1586.01 271.47 1587.25C279 1588.49 286.62 1589.28 294.15 1590.13C301.68 1590.97 311.02 1591.79 316.66 1592.33C322.3 1592.86 321.88 1592.67 328 1593.34C334.12 1594.02 344.93 1595.18 353.39 1596.39C361.85 1597.6 371.72 1599.07 378.78 1600.62C385.83 1602.17 390.62 1604.01 395.7 1605.7C400.78 1607.39 404.87 1608.8 409.24 1610.78C413.61 1612.75 419.82 1616.42 421.94 1617.55C419.82 1619.24 413.61 1625.44 409.24 1627.7C404.87 1629.96 400.78 1630.24 395.7 1631.09C390.62 1631.93 384.42 1631.65 378.78 1632.78C373.13 1633.91 367.49 1635.88 361.85 1637.86C356.21 1639.83 349.16 1642.65 344.93 1644.63C340.69 1646.6 339.28 1648.29 336.46 1649.7C333.64 1651.11 331.33 1651.68 328 1653.09C324.67 1654.5 320.95 1656.47 316.49 1658.17C312.03 1659.86 306.05 1661.27 301.26 1663.24C296.46 1665.22 292.23 1667.48 287.72 1670.01C283.2 1672.55 279.26 1676.08 274.18 1678.48C269.1 1680.87 262.33 1682.43 257.25 1684.4C252.17 1686.38 246.82 1688.49 243.71 1690.32C240.61 1692.16 242.02 1693.85 238.63 1695.4C235.25 1696.95 228.76 1698.08 223.4 1699.63C218.04 1701.18 211.27 1703.16 206.48 1704.71C201.68 1706.26 197.73 1707.25 194.63 1708.94C191.53 1710.63 191.53 1713.6 187.86 1714.87C184.19 1716.14 177.99 1715.85 172.63 1716.56C167.27 1717.26 161.62 1718.39 155.7 1719.1C149.78 1719.8 140.19 1720.51 137.08 1720.79C137.08 1719.66 137.08 1715.15 137.08 1714.02C138.78 1713.46 143.29 1711.9 147.24 1710.63C151.19 1709.37 156.83 1708.1 160.78 1706.4C164.73 1704.71 168.11 1702.6 170.93 1700.48C173.75 1698.36 174.04 1695.68 177.7 1693.71C181.37 1691.73 188.14 1690.32 192.94 1688.63C197.73 1686.94 203.09 1685.53 206.48 1683.55C209.86 1681.58 209.02 1679.04 213.25 1676.78C217.48 1674.53 225.94 1671.85 231.86 1670.01C237.79 1668.18 244.56 1667.19 248.79 1665.78C253.02 1664.37 254.43 1663.39 257.25 1661.55C260.07 1659.72 261.48 1656.9 265.72 1654.78C269.95 1652.67 277.28 1650.83 282.64 1648.86C288 1646.88 294.35 1645.33 297.87 1642.93C301.4 1640.54 302.53 1637.86 303.8 1634.47C305.07 1631.09 304.22 1625.44 305.49 1622.62C306.76 1619.8 310.43 1618.39 311.41 1617.55C306.62 1616.84 291.67 1614.44 282.64 1613.31C273.61 1612.19 265.72 1611.76 257.25 1610.78C248.79 1609.79 240.33 1608.66 231.86 1607.39C223.4 1606.12 214.94 1604.43 206.48 1603.16C198.01 1601.89 188.14 1600.9 181.09 1599.77C174.04 1598.65 168.39 1597.94 164.16 1596.39C159.93 1594.84 159.09 1592.02 155.7 1590.47C152.32 1588.91 149.5 1588.21 143.85 1587.08C138.21 1585.95 131.44 1584.4 121.85 1583.7C112.26 1582.99 92.23 1582.99 86.31 1582.85Z" fill="#48cb86" stroke="#000" stroke-width="1.35" stroke-linejoin="round"/>
<path d="M109.16 1732.64C109.44 1731.65 111.27 1730.38 113.39 1730.1C115.5 1729.82 119.31 1730.38 121.85 1730.94C124.39 1731.51 128.62 1732.64 128.62 1733.48C128.62 1734.33 124.67 1735.6 121.85 1736.02C119.03 1736.45 113.81 1736.59 111.7 1736.02C109.58 1735.46 108.87 1733.62 109.16 1732.64Z" fill="#48cb86" stroke="#000" stroke-width="1.35" stroke-linejoin="round"/>
<path d="M322.88 1636.73C322.88 1634 325.7 1627.32 327.39 1623.19C329.08 1619.05 330.4 1614.72 333.03 1611.9C335.67 1609.08 338.86 1607.67 343.19 1606.26C347.51 1604.85 353.53 1604.04 358.98 1603.44C364.44 1602.84 371.21 1602.75 375.91 1602.65C380.61 1602.56 383.43 1601.9 387.19 1602.88C390.95 1603.86 395.47 1606.64 398.48 1608.52C401.49 1610.4 403.65 1612.66 405.25 1614.16C406.85 1615.67 408.44 1616.04 408.07 1617.55C407.69 1619.05 405.53 1621.5 402.99 1623.19C400.45 1624.88 396.41 1626.57 392.83 1627.7C389.26 1628.83 384.94 1629.02 381.55 1629.96C378.17 1630.9 375.35 1632.03 372.52 1633.34C369.7 1634.66 368.76 1636.73 364.63 1637.86C360.49 1638.98 352.4 1639.55 347.7 1640.11C343 1640.68 339.8 1641.34 336.42 1641.24C333.03 1641.15 329.65 1640.3 327.39 1639.55C325.13 1638.8 322.88 1639.45 322.88 1636.73Z" fill="#bbc42f" stroke="#000" stroke-width="1.35" stroke-linejoin="round"/>
<path d="M346.01 1618.67C346.57 1616.79 350.05 1614.54 353.34 1613.03C356.63 1611.53 360.11 1610.4 365.75 1609.65C371.4 1608.9 382.68 1608.33 387.19 1608.52C391.71 1608.71 390.77 1609.65 392.83 1610.78C394.9 1611.9 398.1 1614.07 399.61 1615.29C401.11 1616.51 402.61 1617.02 401.86 1618.11C401.11 1619.2 397.54 1620.89 395.09 1621.83C392.65 1622.77 390.39 1623.15 387.19 1623.75C384 1624.35 379.86 1624.5 375.91 1625.44C371.96 1626.38 366.69 1628.83 363.5 1629.39C360.3 1629.96 358.98 1629.68 356.73 1628.83C354.47 1627.98 351.74 1626.01 349.96 1624.32C348.17 1622.62 345.44 1620.55 346.01 1618.67Z" fill="#fec735" stroke="#000" stroke-width="1.35" stroke-linejoin="round"/>
<g transform="translate(0 0)">
<rect x="363.93" y="1614.96" width="36.36" height="5.4" rx="2.7" fill="#ff6400" stroke="#f41a00" stroke-width="2"/>
</g>
</g>
<path d="M92.82 1607.9L107.82 1607.9M96.18 1603.76L104.46 1612.03M100.32 1600.4L100.32 1615.4M104.46 1603.76L96.18 1612.03" stroke="#fff" stroke-width="1.6" fill="none" stroke-linecap="butt"/>
<path d="M92.82 1719.54L107.82 1719.54M96.18 1715.41L104.46 1723.68M100.32 1712.04L100.32 1727.04M104.46 1715.41L96.18 1723.68" stroke="#fff" stroke-width="1.6" fill="none" stroke-linecap="butt"/>
<path d="M541.98 1607.9L556.98 1607.9M545.34 1603.76L553.62 1612.03M549.48 1600.4L549.48 1615.4M553.62 1603.76L545.34 1612.03" stroke="#fff" stroke-width="1.6" fill="none" stroke-linecap="butt"/>
<rect x="88.5" y="1384.6" width="472.8" height="465.2" fill="none" stroke="#1e1e1e" stroke-width="1.45"/>
<path d="M88.5 1849.8v-5M88.5 1384.6v5M206.7 1849.8v-5M206.7 1384.6v5M324.9 1849.8v-5M324.9 1384.6v5M443.1 1849.8v-5M443.1 1384.6v5M561.3 1849.8v-5M561.3 1384.6v5M88.5 1849.8h5M561.3 1849.8h-5M88.5 1756.76h5M561.3 1756.76h-5M88.5 1663.72h5M561.3 1663.72h-5M88.5 1570.68h5M561.3 1570.68h-5M88.5 1477.64h5M561.3 1477.64h-5M88.5 1384.6h5M561.3 1384.6h-5" stroke="#1e1e1e" stroke-width="1.1" fill="none"/>
<text class="t" transform="translate(88.5 1889.8) scale(1 1)" font-family='"Liberation Sans", Arial, sans-serif' font-size="26.64" font-weight="bold" text-anchor="middle" fill="#262626">0</text>
<text class="t" transform="translate(206.7 1889.8) scale(1 1)" font-family='"Liberation Sans", Arial, sans-serif' font-size="26.64" font-weight="bold" text-anchor="middle" fill="#262626">5</text>
<text class="t" transform="translate(324.9 1889.8) scale(1 1)" font-family='"Liberation Sans", Arial, sans-serif' font-size="26.64" font-weight="bold" text-anchor="middle" fill="#262626">10</text>
<text class="t" transform="translate(443.1 1889.8) scale(1 1)" font-family='"Liberation Sans", Arial, sans-serif' font-size="26.64" font-weight="bold" text-anchor="middle" fill="#262626">15</text>
<text class="t" transform="translate(561.3 1889.8) scale(1 1)" font-family='"Liberation Sans", Arial, sans-serif' font-size="26.64" font-weight="bold" text-anchor="middle" fill="#262626">20</text>
<text class="t" transform="translate(78.3 1860.84) scale(1 1)" font-family='"Liberation Sans", Arial, sans-serif' font-size="26.64" font-weight="bold" text-anchor="end" fill="#262626">0</text>
<text class="t" transform="translate(78.3 1767.8) scale(1 1)" font-family='"Liberation Sans", Arial, sans-serif' font-size="26.64" font-weight="bold" text-anchor="end" fill="#262626">5</text>
<text class="t" transform="translate(78.3 1674.76) scale(1 1)" font-family='"Liberation Sans", Arial, sans-serif' font-size="26.64" font-weight="bold" text-anchor="end" fill="#262626">10</text>
<text class="t" transform="translate(78.3 1581.72) scale(1 1)" font-family='"Liberation Sans", Arial, sans-serif' font-size="26.64" font-weight="bold" text-anchor="end" fill="#262626">15</text>
<text class="t" transform="translate(78.3 1488.68) scale(1 1)" font-family='"Liberation Sans", Arial, sans-serif' font-size="26.64" font-weight="bold" text-anchor="end" fill="#262626">20</text>
<text class="t" transform="translate(78.3 1395.64) scale(1 1)" font-family='"Liberation Sans", Arial, sans-serif' font-size="26.64" font-weight="bold" text-anchor="end" fill="#262626">25</text>
<text class="t" transform="translate(324.9 1926.8) scale(1 1)" font-family='"Liberation Sans", Arial, sans-serif' font-size="30.39" font-weight="bold" text-anchor="middle" fill="#262626">Length(cm)</text>
<text class="t" transform="translate(34 1617.2) rotate(-90) scale(1 1)" font-family='"Liberation Sans", Arial, sans-serif' font-size="30.39" font-weight="bold" text-anchor="middle" fill="#262626">Width (cm)</text>
<rect x="595.6" y="1384.6" width="33.7" height="464" fill="url(#parula)"/>
<rect x="595.6" y="1384.6" width="33.7" height="464" fill="none" stroke="#1e1e1e" stroke-width="1.45"/>
<text class="t" transform="translate(641 1829.47) scale(1 1)" font-family='"Liberation Sans", Arial, sans-serif' font-size="23.7" font-weight="bold" text-anchor="start" fill="#262626">-0.1</text>
<text class="t" transform="translate(641 1767.28) scale(1 1)" font-family='"Liberation Sans", Arial, sans-serif' font-size="23.7" font-weight="bold" text-anchor="start" fill="#262626">0</text>
<text class="t" transform="translate(641 1705.08) scale(1 1)" font-family='"Liberation Sans", Arial, sans-serif' font-size="23.7" font-weight="bold" text-anchor="start" fill="#262626">0.1</text>
<text class="t" transform="translate(641 1642.88) scale(1 1)" font-family='"Liberation Sans", Arial, sans-serif' font-size="23.7" font-weight="bold" text-anchor="start" fill="#262626">0.2</text>
<text class="t" transform="translate(641 1580.68) scale(1 1)" font-family='"Liberation Sans", Arial, sans-serif' font-size="23.7" font-weight="bold" text-anchor="start" fill="#262626">0.3</text>
<text class="t" transform="translate(641 1518.48) scale(1 1)" font-family='"Liberation Sans", Arial, sans-serif' font-size="23.7" font-weight="bold" text-anchor="start" fill="#262626">0.4</text>
<text class="t" transform="translate(641 1456.28) scale(1 1)" font-family='"Liberation Sans", Arial, sans-serif' font-size="23.7" font-weight="bold" text-anchor="start" fill="#262626">0.5</text>
<text class="t" transform="translate(641 1394.09) scale(1 1)" font-family='"Liberation Sans", Arial, sans-serif' font-size="23.7" font-weight="bold" text-anchor="start" fill="#262626">0.6</text>
<path d="M629.3 1819.99h-4M629.3 1757.79h-4M629.3 1695.59h-4M629.3 1633.39h-4M629.3 1571.2h-4M629.3 1509h-4M629.3 1446.8h-4M629.3 1384.6h-4" stroke="#262626" stroke-width="1" fill="none"/>
<text x="356.8" y="1970.2" font-family='"Liberation Serif", "Times New Roman", serif' font-size="42.7" text-anchor="middle" fill="#000"><tspan font-weight="bold">(e)</tspan> Case 2 (subcase 2)</text>
<rect x="852.6" y="1384.2" width="484.8" height="466.2" fill="#0000ff"/>
<path d="M857.72 1607.98L871.72 1607.98M860.86 1604.12L868.58 1611.84M864.72 1600.98L864.72 1614.98M868.58 1604.12L860.86 1611.84" stroke="#fff" stroke-width="1.6" fill="none" stroke-linecap="butt"/>
<path d="M857.72 1719.86L871.72 1719.86M860.86 1716L868.58 1723.72M864.72 1712.86L864.72 1726.86M868.58 1716L860.86 1723.72" stroke="#fff" stroke-width="1.6" fill="none" stroke-linecap="butt"/>
<path d="M1318.28 1607.98L1332.28 1607.98M1321.42 1604.12L1329.14 1611.84M1325.28 1600.98L1325.28 1614.98M1329.14 1604.12L1321.42 1611.84" stroke="#fff" stroke-width="1.6" fill="none" stroke-linecap="butt"/>
<path d="M1129.56 1616.75L1133.27 1615.02L1144.62 1614.03L1144.87 1612.8L1153.01 1612.55L1154.49 1611.07L1159.43 1610.97L1160.91 1612.55L1163.87 1613.29L1164.12 1614.28L1167.33 1616.75L1164.37 1620.94L1160.91 1621.19L1160.66 1622.67L1152.02 1622.67L1151.78 1621.09L1136.23 1620.94L1133.27 1619.21Z" fill="#ffff00" transform="translate(0 -0)"/>
<g transform="translate(0 -0)">
<rect x="1135.7" y="1614.25" width="37.6" height="6.7" rx="3.35" fill="#c0004c"/>
<rect x="1135.7" y="1614.25" width="31.8" height="6.7" rx="3.35" fill="#ff3c00"/>
<rect x="1138.3" y="1615.95" width="27.6" height="3.3" rx="1.4" fill="#ff7800"/>
<rect x="1170.3" y="1614.85" width="2" height="5.5" rx="1" fill="#ff0000"/>
</g>
<text class="t" transform="translate(854.2 1889.8) scale(1 1)" font-family='"Liberation Sans", Arial, sans-serif' font-size="26.96" font-weight="bold" text-anchor="middle" fill="#262626">0</text>
<text class="t" transform="translate(975 1889.8) scale(1 1)" font-family='"Liberation Sans", Arial, sans-serif' font-size="26.96" font-weight="bold" text-anchor="middle" fill="#262626">5</text>
<text class="t" transform="translate(1095.8 1889.8) scale(1 1)" font-family='"Liberation Sans", Arial, sans-serif' font-size="26.96" font-weight="bold" text-anchor="middle" fill="#262626">10</text>
<text class="t" transform="translate(1216.6 1889.8) scale(1 1)" font-family='"Liberation Sans", Arial, sans-serif' font-size="26.96" font-weight="bold" text-anchor="middle" fill="#262626">15</text>
<text class="t" transform="translate(1337.4 1889.8) scale(1 1)" font-family='"Liberation Sans", Arial, sans-serif' font-size="26.96" font-weight="bold" text-anchor="middle" fill="#262626">20</text>
<text class="t" transform="translate(842.8 1860.95) scale(1 1)" font-family='"Liberation Sans", Arial, sans-serif' font-size="26.96" font-weight="bold" text-anchor="end" fill="#262626">0</text>
<text class="t" transform="translate(842.8 1767.91) scale(1 1)" font-family='"Liberation Sans", Arial, sans-serif' font-size="26.96" font-weight="bold" text-anchor="end" fill="#262626">5</text>
<text class="t" transform="translate(842.8 1674.87) scale(1 1)" font-family='"Liberation Sans", Arial, sans-serif' font-size="26.96" font-weight="bold" text-anchor="end" fill="#262626">10</text>
<text class="t" transform="translate(842.8 1581.83) scale(1 1)" font-family='"Liberation Sans", Arial, sans-serif' font-size="26.96" font-weight="bold" text-anchor="end" fill="#262626">15</text>
<text class="t" transform="translate(842.8 1488.79) scale(1 1)" font-family='"Liberation Sans", Arial, sans-serif' font-size="26.96" font-weight="bold" text-anchor="end" fill="#262626">20</text>
<text class="t" transform="translate(842.8 1395.75) scale(1 1)" font-family='"Liberation Sans", Arial, sans-serif' font-size="26.96" font-weight="bold" text-anchor="end" fill="#262626">25</text>
<text class="t" transform="translate(1095.8 1926.6) scale(1.05 1)" font-family='"Liberation Sans", Arial, sans-serif' font-size="29.21" font-weight="bold" text-anchor="middle" fill="#262626">Length(cm)</text>
<text class="t" transform="translate(797.4 1617.2) rotate(-90) scale(1.05 1)" font-family='"Liberation Sans", Arial, sans-serif' font-size="29.21" font-weight="bold" text-anchor="middle" fill="#262626">Width (cm)</text>
<rect x="1371.3" y="1385.1" width="35.5" height="232.3" fill="#ffff00"/>
<rect x="1371.3" y="1617.4" width="35.5" height="231.6" fill="#0000ff"/>
<rect x="1371.3" y="1385.1" width="35.5" height="463.9" fill="none" stroke="#1e1e1e" stroke-width="1.45"/>
<text class="t" transform="translate(1418.8 1394.69) scale(1 1)" font-family='"Liberation Sans", Arial, sans-serif' font-size="23.98" font-weight="bold" text-anchor="start" fill="#262626">1</text>
<text class="t" transform="translate(1418.8 1858.59) scale(1 1)" font-family='"Liberation Sans", Arial, sans-serif' font-size="23.98" font-weight="bold" text-anchor="start" fill="#262626">0</text>
<text x="1111.2" y="1970.2" font-family='"Liberation Serif", "Times New Roman", serif' font-size="42.7" text-anchor="middle" fill="#000"><tspan font-weight="bold">(f)</tspan> Case 2 (subcase 2) threshold</text>
<rect x="88.5" y="2029.8" width="472.8" height="465.2" fill="#4367fd"/>
<clipPath id="clip2"><rect x="88.5" y="2025.8" width="472.8" height="472.2"/></clipPath>
<g clip-path="url(#clip2)">
<path d="M245.4 2027.6L245.4 2029.74C245.4 2032.9 245.4 2045.54 245.4 2048.7C246.25 2050.95 248.79 2056.88 250.48 2062.24C252.17 2067.6 253.87 2075.78 255.56 2080.85C257.25 2085.93 258.66 2088.75 260.64 2092.7C262.61 2096.65 265.43 2100.32 267.41 2104.55C269.38 2108.78 270.79 2113.29 272.49 2118.09C274.18 2122.88 275.59 2128.81 277.56 2133.32C279.54 2137.83 282.08 2140.94 284.33 2145.17C286.59 2149.4 288.85 2154.2 291.1 2158.71C293.36 2163.22 295.62 2168.72 297.87 2172.25C300.13 2175.78 302.39 2177.89 304.64 2179.87C306.9 2181.84 310.28 2183.39 311.41 2184.1L312.46 2184.1L312.46 2184.1L312.46 2203.56L328 2203.56C329.41 2203.65 332.23 2203.65 336.46 2204.07C340.69 2204.49 347.75 2205.06 353.39 2206.1C359.03 2207.14 365.24 2208.64 370.31 2210.33C375.39 2212.02 379.62 2214.28 383.85 2216.26C388.08 2218.23 390.91 2220.2 395.7 2222.18C400.5 2224.15 406.98 2226.41 412.63 2228.1C418.27 2229.8 423.91 2231.21 429.55 2232.33C435.19 2233.46 440.83 2234.17 446.48 2234.87C452.12 2235.58 457.76 2236.14 463.4 2236.57C469.04 2236.99 474.69 2237.19 480.33 2237.41C485.97 2237.64 492.09 2237.83 497.25 2237.92C502.41 2238 508.96 2237.92 511.3 2237.92L511.53 2237.92L511.53 2237.92L511.53 2204.25L486.65 2204.25L486.65 2165.48L461.76 2165.48L461.76 2126.72L436.88 2126.72L436.88 2087.95L411.99 2087.95L411.99 2068.57L387.11 2068.57L387.11 2049.18L362.23 2049.18L362.23 2027.6Z" fill="#4538d7" stroke="#000" stroke-width="1.35" stroke-linejoin="round"/>
<path d="M287.57 2027.6V2049.18" fill="none" stroke="#000" stroke-width="1.35" stroke-linejoin="round"/>
<path d="M328 2047C331.61 2048.84 333.64 2051.23 336.46 2053.77C339.28 2056.31 341.82 2059.13 344.93 2062.24C348.03 2065.34 351.41 2069.01 355.08 2072.39C358.75 2075.78 363.83 2078.88 366.93 2082.55C370.03 2086.21 370.6 2090.73 373.7 2094.39C376.8 2098.06 382.16 2100.88 385.55 2104.55C388.93 2108.22 391.19 2112.73 394.01 2116.4C396.83 2120.06 399.09 2122.32 402.47 2126.55C405.86 2130.78 411.22 2136.99 414.32 2141.78C417.42 2146.58 418.55 2151.09 421.09 2155.32C423.63 2159.56 426.45 2163.22 429.55 2167.17C432.65 2171.12 436.89 2174.79 439.71 2179.02C442.53 2183.25 443.66 2188.05 446.48 2192.56C449.3 2197.07 453.53 2201.87 456.63 2206.1C459.73 2210.33 463.4 2215.13 465.09 2217.95C466.79 2220.77 468.2 2221.76 466.79 2223.03C465.38 2224.29 461.43 2224.86 456.63 2225.56C451.84 2226.27 443.66 2227.4 438.01 2227.26C432.37 2227.12 427.01 2225.56 422.78 2224.72C418.55 2223.87 415.45 2223.59 412.63 2222.18C409.81 2220.77 408.68 2218.23 405.86 2216.26C403.04 2214.28 399.37 2211.88 395.7 2210.33C392.03 2208.78 387.24 2208.22 383.85 2206.95C380.47 2205.68 377.65 2205.11 375.39 2202.72C373.13 2200.32 372.85 2196.23 370.31 2192.56C367.77 2188.89 362.7 2184.66 360.16 2180.71C357.62 2176.76 357.06 2173.38 355.08 2168.86C353.11 2164.35 351.13 2158.71 348.31 2153.63C345.49 2148.55 340.69 2142.91 338.16 2138.4C335.62 2133.89 334.77 2131.35 333.08 2126.55C331.39 2121.76 329.35 2115.27 328 2109.63C326.65 2103.98 326.31 2097.5 324.95 2092.7C323.6 2087.91 321.85 2084.52 319.88 2080.85C317.9 2077.19 315.08 2074.37 313.11 2070.7C311.13 2067.03 309.3 2062.38 308.03 2058.85C306.76 2055.32 305.49 2051.94 305.49 2049.54C305.49 2047.14 306.48 2045.59 308.03 2044.46C309.58 2043.34 311.47 2042.35 314.8 2042.77C318.13 2043.19 324.39 2045.17 328 2047Z" fill="#3e26a8" stroke="#000" stroke-width="1.35" stroke-linejoin="round"/>
<path d="M565 2301.17L536.42 2301.17L536.42 2292.17L510.79 2292.17L510.79 2292.17C508.54 2291.88 502.33 2291.04 497.25 2290.47C492.17 2289.91 485.97 2289.06 480.33 2288.78C474.69 2288.5 469.04 2288.36 463.4 2288.78C457.76 2289.2 451.55 2290.19 446.48 2291.32C441.4 2292.45 437.31 2293.86 432.94 2295.55C428.56 2297.24 422.36 2300.49 420.24 2301.47C420.67 2302.6 421.23 2305.71 422.78 2308.24C424.33 2310.78 427.15 2314.45 429.55 2316.71C431.95 2318.96 435.62 2318.96 437.17 2321.78C438.72 2324.61 437.87 2329.12 438.86 2333.63C439.85 2338.15 441.26 2345.06 443.09 2348.86C444.93 2352.67 446.9 2354.65 449.86 2356.48C452.82 2358.31 459.03 2359.3 460.86 2359.87C460.44 2362.26 459.31 2369.03 458.32 2374.25C457.34 2379.47 456.07 2385.54 454.94 2391.18C453.81 2396.82 452.96 2404.29 451.55 2408.1C450.14 2411.91 449.02 2412.67 446.48 2414.03C443.94 2415.38 438.01 2415.86 436.32 2416.23L436.88 2436.85L436.88 2436.85L486.65 2436.85L486.65 2417.47L536.42 2417.47L536.42 2398.08L565 2398.08Z" fill="#4538d7" stroke="#000" stroke-width="1.35" stroke-linejoin="round"/>
<path d="M449.02 2301.47C450.43 2299.44 458.18 2298.6 463.4 2297.75C468.62 2296.9 474.69 2296.34 480.33 2296.4C485.97 2296.45 492.03 2297.38 497.25 2298.09C502.47 2298.79 508.54 2298.09 511.64 2300.63C514.74 2303.17 514.32 2308.67 515.87 2313.32C517.42 2317.98 519.26 2323.76 520.95 2328.55C522.64 2333.35 524.05 2337.86 526.03 2342.09C528 2346.33 530.68 2350.28 532.8 2353.94C534.91 2357.61 537.17 2360.15 538.72 2364.1C540.27 2368.05 541.96 2374.53 542.1 2377.64C542.25 2380.74 540.83 2381.59 539.57 2382.72C538.3 2383.84 537.31 2384.69 534.49 2384.41C531.67 2384.13 526.59 2382.72 522.64 2381.02C518.69 2379.33 514.46 2376.79 510.79 2374.25C507.13 2371.71 503.46 2368.47 500.64 2365.79C497.82 2363.11 496.69 2360.99 493.87 2358.17C491.05 2355.35 486.53 2352.11 483.71 2348.86C480.89 2345.62 479.48 2342.38 476.94 2338.71C474.4 2335.04 471.3 2329.96 468.48 2326.86C465.66 2323.76 462.27 2322.91 460.02 2320.09C457.76 2317.27 456.77 2313.04 454.94 2309.94C453.11 2306.83 447.61 2303.5 449.02 2301.47Z" fill="#3e26a8" stroke="#000" stroke-width="1.35" stroke-linejoin="round"/>
<path d="M80 2398.08L165.95 2398.08L164.65 2417.47L163.15 2436.85L138.27 2436.85L138.27 2417.47L80 2417.47Z" fill="#4538d7" stroke="#000" stroke-width="1.35" stroke-linejoin="round"/>
<path d="M286.87 2437.72C286.59 2432.79 285.18 2417.98 285.18 2408.1C285.18 2398.23 286.59 2383.42 286.87 2378.48C288.99 2377.5 296.04 2375.52 299.57 2372.56C303.09 2369.6 306.05 2364.1 308.03 2360.71C310 2357.33 310.62 2355.72 311.41 2352.25C312.2 2348.78 312.54 2341.95 312.77 2339.89L362.23 2339.93L362.23 2339.93L362.7 2339.89C362.7 2342.8 362.5 2348.78 362.7 2357.33C362.89 2365.87 363.88 2379.89 363.88 2391.18C363.88 2402.46 363.04 2417.27 362.7 2425.03C362.36 2432.79 361.99 2435.61 361.85 2437.72Z" fill="#4538d7" stroke="#000" stroke-width="1.35" stroke-linejoin="round"/>
<path d="M86.31 2209.06C92.23 2209.01 110.28 2209.2 121.85 2208.72C133.42 2208.24 144.42 2206.95 155.7 2206.18C166.98 2205.42 179.68 2204.52 189.55 2204.15C199.42 2203.79 206.48 2203.7 214.94 2203.98C223.4 2204.27 230.45 2204.92 240.33 2205.85C250.2 2206.78 262.89 2208.53 274.18 2209.57C285.46 2210.61 299.06 2211.49 308.03 2212.11C317 2212.73 321.85 2212.79 328 2213.29C334.15 2213.8 339.28 2214.14 344.93 2215.16C350.57 2216.17 356.21 2217.41 361.85 2219.39C367.49 2221.36 373.13 2224.61 378.78 2227C384.42 2229.4 390.06 2231.66 395.7 2233.77C401.34 2235.89 406.98 2238 412.63 2239.7C418.27 2241.39 423.91 2242.66 429.55 2243.93C435.19 2245.2 440.83 2246.33 446.48 2247.31C452.12 2248.3 457.76 2249.23 463.4 2249.85C469.04 2250.47 474.69 2250.9 480.33 2251.04C485.97 2251.18 492.17 2250.98 497.25 2250.7C502.33 2250.42 506.84 2249.06 510.79 2249.34C514.74 2249.63 517.99 2250.75 520.95 2252.39C523.91 2254.03 527.58 2256.34 528.56 2259.16C529.55 2261.98 528.14 2265.93 526.87 2269.32C525.6 2272.7 523.35 2276.88 520.95 2279.47C518.55 2282.07 516.43 2284.46 512.49 2284.89C508.54 2285.31 502.61 2282.91 497.25 2282.01C491.89 2281.11 485.97 2280.04 480.33 2279.47C474.69 2278.91 469.04 2278.34 463.4 2278.62C457.76 2278.91 451.55 2279.89 446.48 2281.16C441.4 2282.43 437.17 2284.55 432.94 2286.24C428.71 2287.93 424.47 2290.05 421.09 2291.32C417.7 2292.59 416.86 2293.58 412.63 2293.86C408.39 2294.14 401.34 2292.73 395.7 2293.01C390.06 2293.29 384.42 2294.56 378.78 2295.55C373.13 2296.54 366.08 2297.67 361.85 2298.94C357.62 2300.2 356.21 2301.61 353.39 2303.17C350.57 2304.72 347.75 2306.55 344.93 2308.24C342.1 2309.94 339.28 2311.69 336.46 2313.32C333.64 2314.96 330.48 2316.51 328 2318.06C325.52 2319.61 324.33 2320.88 321.57 2322.63C318.8 2324.38 315.64 2326.72 311.41 2328.55C307.18 2330.39 301.54 2331.52 296.18 2333.63C290.82 2335.75 283.77 2338.71 279.26 2341.25C274.74 2343.79 273.33 2346.75 269.1 2348.86C264.87 2350.98 259.23 2352.53 253.87 2353.94C248.51 2355.35 241.17 2356.06 236.94 2357.33C232.71 2358.6 231.3 2359.72 228.48 2361.56C225.66 2363.39 223.68 2366.64 220.02 2368.33C216.35 2370.02 211.55 2370.73 206.48 2371.71C201.4 2372.7 194.63 2373.12 189.55 2374.25C184.47 2375.38 179.68 2376.79 176.01 2378.48C172.34 2380.18 170.93 2382.72 167.55 2384.41C164.16 2386.1 160.5 2387.51 155.7 2388.64C150.91 2389.77 145.26 2390.42 138.78 2391.18C132.29 2391.94 122.98 2393.21 116.77 2393.21C110.57 2393.21 105.77 2392.5 101.54 2391.18C97.31 2389.85 93.5 2387.51 91.39 2385.25C89.27 2383 88.28 2380.32 88.85 2377.64C89.41 2374.96 92.09 2372 94.77 2369.17C97.45 2366.35 101.26 2363.53 104.93 2360.71C108.59 2357.89 113.11 2354.79 116.77 2352.25C120.44 2349.71 122.7 2347.45 126.93 2345.48C131.16 2343.5 138.21 2342.38 142.16 2340.4C146.11 2338.43 147.24 2335.61 150.62 2333.63C154.01 2331.66 158.24 2330.53 162.47 2328.55C166.7 2326.58 172.63 2324.04 176.01 2321.78C179.4 2319.53 179.11 2317.27 182.78 2315.01C186.45 2312.76 192.65 2310.22 198.01 2308.24C203.37 2306.27 210.71 2305 214.94 2303.17C219.17 2301.33 220.58 2299.22 223.4 2297.24C226.22 2295.27 227.63 2293.15 231.86 2291.32C236.1 2289.49 243.57 2287.93 248.79 2286.24C254.01 2284.55 263.18 2282.86 263.18 2281.16C263.18 2279.47 255.42 2277.5 248.79 2276.09C242.16 2274.68 231.86 2273.69 223.4 2272.7C214.94 2271.71 204.78 2271.15 198.01 2270.16C191.24 2269.17 187.01 2268.13 182.78 2266.78C178.55 2265.42 177.14 2263.53 172.63 2262.04C168.11 2260.54 161.34 2259.08 155.7 2257.81C150.06 2256.54 144.42 2255.41 138.78 2254.42C133.13 2253.43 126.65 2253.29 121.85 2251.88C117.06 2250.47 113.39 2247.79 110 2245.96C106.62 2244.13 105.49 2242.15 101.54 2240.88C97.59 2239.61 88.85 2238.77 86.31 2238.34Z" fill="#2797eb" stroke="#000" stroke-width="1.35" stroke-linejoin="round"/>
<path d="M86.31 2216.34C92.23 2216.06 110.28 2215.21 121.85 2214.65C133.42 2214.08 144.42 2213.38 155.7 2212.95C166.98 2212.53 178.27 2212.11 189.55 2212.11C200.83 2212.11 212.12 2212.25 223.4 2212.95C234.69 2213.66 245.97 2215.21 257.25 2216.34C268.54 2217.47 279.31 2218.6 291.1 2219.72C302.89 2220.85 319.03 2222.32 328 2223.11C336.97 2223.9 339.28 2223.53 344.93 2224.46C350.57 2225.39 356.21 2226.72 361.85 2228.7C367.49 2230.67 373.13 2233.91 378.78 2236.31C384.42 2238.71 390.06 2240.97 395.7 2243.08C401.34 2245.2 408.11 2247.17 412.63 2249.01C417.14 2250.84 419.4 2252.25 422.78 2254.08C426.17 2255.92 429.55 2258.68 432.94 2260.01C436.32 2261.33 439.71 2261.56 443.09 2262.04C446.48 2262.52 448.45 2263.08 453.25 2262.88C458.04 2262.69 465.94 2261.61 471.86 2260.85C477.79 2260.09 482.3 2259.16 488.79 2258.31C495.28 2257.47 505.72 2255.07 510.79 2255.78C515.87 2256.48 519.11 2259.72 519.26 2262.55C519.4 2265.37 515.31 2271.57 511.64 2272.7C507.97 2273.83 502.47 2270.44 497.25 2269.32C492.03 2268.19 485.4 2266.81 480.33 2265.93C475.25 2265.06 471.3 2264.49 466.79 2264.07C462.27 2263.65 458.32 2263.22 453.25 2263.39C448.17 2263.56 440.27 2263.53 436.32 2265.08C432.37 2266.64 432.37 2270.3 429.55 2272.7C426.73 2275.1 423.63 2277.5 419.4 2279.47C415.17 2281.45 409.52 2283.14 404.16 2284.55C398.8 2285.96 392.88 2286.81 387.24 2287.93C381.6 2289.06 375.39 2289.91 370.31 2291.32C365.24 2292.73 360.16 2294.7 356.77 2296.4C353.39 2298.09 353.11 2299.64 350 2301.47C346.9 2303.31 341.82 2305.71 338.16 2307.4C334.49 2309.09 331.89 2310.08 328 2311.63C324.11 2313.18 319.26 2314.87 314.8 2316.71C310.34 2318.54 305.77 2320.51 301.26 2322.63C296.74 2324.75 292.8 2327.28 287.72 2329.4C282.64 2331.52 275.02 2333.21 270.79 2335.32C266.56 2337.44 266 2340.12 262.33 2342.09C258.66 2344.07 253.3 2345.62 248.79 2347.17C244.28 2348.72 239.76 2349.85 235.25 2351.4C230.74 2352.95 225.94 2354.51 221.71 2356.48C217.48 2358.46 213.81 2361.7 209.86 2363.25C205.91 2364.8 202.81 2364.66 198.01 2365.79C193.22 2366.92 186.73 2368.47 181.09 2370.02C175.45 2371.57 168.96 2373.12 164.16 2375.1C159.37 2377.07 157.11 2380.04 152.32 2381.87C147.52 2383.7 141.31 2385.11 135.39 2386.1C129.47 2387.09 122.13 2388.07 116.77 2387.79C111.41 2387.51 106.34 2386.1 103.23 2384.41C100.13 2382.72 98.16 2379.89 98.16 2377.64C98.16 2375.38 100.69 2373.12 103.23 2370.87C105.77 2368.61 110.28 2366.35 113.39 2364.1C116.49 2361.84 118.18 2359.58 121.85 2357.33C125.52 2355.07 131.16 2352.25 135.39 2350.56C139.62 2348.86 143.85 2348.86 147.24 2347.17C150.62 2345.48 152.32 2342.8 155.7 2340.4C159.09 2338 163.32 2335.04 167.55 2332.79C171.78 2330.53 176.86 2328.98 181.09 2326.86C185.32 2324.75 188.71 2322.49 192.94 2320.09C197.17 2317.69 201.96 2314.59 206.48 2312.48C210.99 2310.36 215.79 2309.09 220.02 2307.4C224.25 2305.71 228.48 2304.15 231.86 2302.32C235.25 2300.49 236.1 2298.37 240.33 2296.4C244.56 2294.42 252.17 2292.31 257.25 2290.47C262.33 2288.64 267.83 2287.23 270.79 2285.39C273.75 2283.56 275.31 2281.59 275.02 2279.47C274.74 2277.36 272.06 2274.39 269.1 2272.7C266.14 2271.01 262.05 2270.3 257.25 2269.32C252.46 2268.33 245.97 2267.57 240.33 2266.78C234.69 2265.99 229.04 2265.42 223.4 2264.58C217.76 2263.73 212.12 2263.17 206.48 2261.7C200.83 2260.23 195.19 2257.55 189.55 2255.78C183.91 2254 178.27 2252.25 172.63 2251.04C166.98 2249.82 161.91 2249.49 155.7 2248.5C149.5 2247.51 141.03 2246.52 135.39 2245.11C129.75 2243.7 126.93 2241.87 121.85 2240.04C116.77 2238.2 110.85 2235.38 104.93 2234.11C99 2232.84 89.41 2232.7 86.31 2232.42Z" fill="#00b9c7" stroke="#000" stroke-width="1.35" stroke-linejoin="round"/>
<path d="M86.31 2221.42C95.05 2221.36 121.57 2221.08 138.78 2221.08C155.98 2221.08 175.45 2221.22 189.55 2221.42C203.66 2221.61 213.53 2221.84 223.4 2222.26C233.28 2222.69 241.74 2223.11 248.79 2223.96C255.84 2224.8 258.66 2226.21 265.72 2227.34C272.77 2228.47 280.72 2229.46 291.1 2230.73C301.48 2232 319.03 2233.89 328 2234.96C336.97 2236.03 339.28 2236.37 344.93 2237.16C350.57 2237.95 356.21 2238.71 361.85 2239.7C367.49 2240.68 373.13 2241.67 378.78 2243.08C384.42 2244.49 390.62 2246.33 395.7 2248.16C400.78 2249.99 405.29 2252.25 409.24 2254.08C413.19 2255.92 416.86 2257.75 419.4 2259.16C421.94 2260.57 423.63 2261.98 424.47 2262.55C423.06 2264.1 419.4 2269.46 416.01 2271.85C412.63 2274.25 408.96 2275.24 404.16 2276.93C399.37 2278.62 392.88 2280.46 387.24 2282.01C381.6 2283.56 375.95 2284.69 370.31 2286.24C364.67 2287.79 358.18 2289.34 353.39 2291.32C348.59 2293.29 345.77 2296.34 341.54 2298.09C337.31 2299.84 332.17 2300.68 328 2301.81C323.83 2302.94 321.23 2303.36 316.49 2304.86C311.75 2306.35 303.8 2308.81 299.57 2310.78C295.33 2312.76 293.92 2314.59 291.1 2316.71C288.28 2318.82 286.87 2321.5 282.64 2323.48C278.41 2325.45 271.36 2326.72 265.72 2328.55C260.07 2330.39 253.02 2332.5 248.79 2334.48C244.56 2336.45 244.56 2338.43 240.33 2340.4C236.1 2342.38 228.48 2344.63 223.4 2346.33C218.32 2348.02 214.09 2349.15 209.86 2350.56C205.63 2351.97 201.4 2353.24 198.01 2354.79C194.63 2356.34 193.78 2358.6 189.55 2359.87C185.32 2361.14 178.27 2361.42 172.63 2362.4C166.98 2363.39 160.5 2364.94 155.7 2365.79C150.91 2366.64 146.96 2366.64 143.85 2367.48C140.75 2368.33 138.21 2370.3 137.08 2370.87C136.8 2368.89 135.67 2360.99 135.39 2359.02C137.37 2358.46 143.29 2356.9 147.24 2355.63C151.19 2354.37 155.42 2353.1 159.09 2351.4C162.75 2349.71 166.42 2347.6 169.24 2345.48C172.06 2343.36 172.63 2340.68 176.01 2338.71C179.4 2336.73 184.76 2335.61 189.55 2333.63C194.35 2331.66 201.12 2329.12 204.78 2326.86C208.45 2324.61 207.04 2322.35 211.55 2320.09C216.07 2317.83 225.66 2315.3 231.86 2313.32C238.07 2311.35 244.56 2309.94 248.79 2308.24C253.02 2306.55 254.43 2305 257.25 2303.17C260.07 2301.33 261.48 2299.5 265.72 2297.24C269.95 2294.99 278.55 2292.59 282.64 2289.63C286.73 2286.66 288.99 2284.13 290.26 2279.47C291.53 2274.82 290.26 2264.66 290.26 2261.7C284.76 2260.77 268.39 2257.89 257.25 2256.11C246.11 2254.34 234.69 2252.73 223.4 2251.04C212.12 2249.34 199.99 2247.37 189.55 2245.96C179.11 2244.55 166.98 2244.13 160.78 2242.57C154.57 2241.02 155.98 2238.34 152.32 2236.65C148.65 2234.96 145.26 2233.83 138.78 2232.42C132.29 2231.01 122.13 2229.17 113.39 2228.19C104.64 2227.2 90.82 2226.78 86.31 2226.5Z" fill="#48cb86" stroke="#000" stroke-width="1.35" stroke-linejoin="round"/>
<path d="M108.31 2378.48C108.87 2377.5 110.57 2375.66 113.39 2375.1C116.21 2374.53 122.13 2374.68 125.24 2375.1C128.34 2375.52 131.44 2376.79 132.01 2377.64C132.57 2378.48 131.16 2379.47 128.62 2380.18C126.08 2380.88 119.88 2381.73 116.77 2381.87C113.67 2382.01 111.41 2381.59 110 2381.02C108.59 2380.46 107.75 2379.47 108.31 2378.48Z" fill="#48cb86" stroke="#000" stroke-width="1.35" stroke-linejoin="round"/>
<path d="M309.72 2281.16C310.28 2279.47 314.52 2278.34 316.49 2276.09C318.47 2273.83 319.65 2271.29 321.57 2267.62C323.49 2263.96 325.52 2257.05 328 2254.08C330.48 2251.12 332.23 2250.84 336.46 2249.85C340.69 2248.86 346.34 2248.36 353.39 2248.16C360.44 2247.96 372.29 2248.1 378.78 2248.67C385.26 2249.23 388.37 2250.08 392.32 2251.54C396.27 2253.01 399.37 2255.63 402.47 2257.47C405.57 2259.3 410.65 2260.57 410.93 2262.55C411.22 2264.52 407.27 2267.34 404.16 2269.32C401.06 2271.29 396.55 2272.84 392.32 2274.39C388.08 2275.94 383.85 2277.21 378.78 2278.62C373.7 2280.04 367.49 2281.45 361.85 2282.86C356.21 2284.27 350.57 2286.1 344.93 2287.09C339.28 2288.07 333.3 2288.92 328 2288.78C322.7 2288.64 316.15 2287.51 313.11 2286.24C310.06 2284.97 309.16 2282.86 309.72 2281.16Z" fill="#bbc42f" stroke="#000" stroke-width="1.35" stroke-linejoin="round"/>
<path d="M338.16 2279.47C338.44 2276.65 338.72 2266.21 339.85 2262.55C340.98 2258.88 341.82 2258.88 344.93 2257.47C348.03 2256.06 352.82 2254.79 358.47 2254.08C364.11 2253.38 373.7 2253.1 378.78 2253.24C383.85 2253.38 386.11 2253.94 388.93 2254.93C391.75 2255.92 393.02 2257.89 395.7 2259.16C398.38 2260.43 403.46 2261.98 405.01 2262.55C404.02 2263.39 402.05 2266.07 399.09 2267.62C396.12 2269.17 392.03 2270.59 387.24 2271.85C382.44 2273.12 373.13 2274.68 370.31 2275.24C368.9 2276.09 363.26 2279.47 361.85 2280.32C359.88 2280.51 353.95 2281.64 350 2281.5C346.05 2281.36 340.13 2279.81 338.16 2279.47Z" fill="#fec735" stroke="#000" stroke-width="1.35" stroke-linejoin="round"/>
<path d="M358.47 2261.7C361.85 2260.46 381.03 2259.3 387.24 2259.5C393.44 2259.7 395.7 2261.47 395.7 2262.88C395.7 2264.29 392.03 2267.28 387.24 2267.96C382.44 2268.64 371.72 2267.99 366.93 2266.95C362.13 2265.9 355.08 2262.94 358.47 2261.7Z" fill="#d9c02a" stroke="#000" stroke-width="0.9" stroke-linejoin="round"/>
<g transform="translate(0 0)">
<rect x="352.7" y="2259.78" width="47.93" height="5.2" rx="2.6" fill="#ff6400" stroke="#f41a00" stroke-width="2"/>
</g>
</g>
<path d="M92.82 2253.1L107.82 2253.1M96.18 2248.96L104.46 2257.23M100.32 2245.6L100.32 2260.6M104.46 2248.96L96.18 2257.23" stroke="#fff" stroke-width="1.6" fill="none" stroke-linecap="butt"/>
<path d="M92.82 2364.74L107.82 2364.74M96.18 2360.61L104.46 2368.88M100.32 2357.24L100.32 2372.24M104.46 2360.61L96.18 2368.88" stroke="#fff" stroke-width="1.6" fill="none" stroke-linecap="butt"/>
<path d="M541.98 2253.1L556.98 2253.1M545.34 2248.96L553.62 2257.23M549.48 2245.6L549.48 2260.6M553.62 2248.96L545.34 2257.23" stroke="#fff" stroke-width="1.6" fill="none" stroke-linecap="butt"/>
<rect x="88.5" y="2029.8" width="472.8" height="465.2" fill="none" stroke="#1e1e1e" stroke-width="1.45"/>
<path d="M88.5 2495v-5M88.5 2029.8v5M206.7 2495v-5M206.7 2029.8v5M324.9 2495v-5M324.9 2029.8v5M443.1 2495v-5M443.1 2029.8v5M561.3 2495v-5M561.3 2029.8v5M88.5 2495h5M561.3 2495h-5M88.5 2401.96h5M561.3 2401.96h-5M88.5 2308.92h5M561.3 2308.92h-5M88.5 2215.88h5M561.3 2215.88h-5M88.5 2122.84h5M561.3 2122.84h-5M88.5 2029.8h5M561.3 2029.8h-5" stroke="#1e1e1e" stroke-width="1.1" fill="none"/>
<text class="t" transform="translate(88.5 2535) scale(1 1)" font-family='"Liberation Sans", Arial, sans-serif' font-size="26.64" font-weight="bold" text-anchor="middle" fill="#262626">0</text>
<text class="t" transform="translate(206.7 2535) scale(1 1)" font-family='"Liberation Sans", Arial, sans-serif' font-size="26.64" font-weight="bold" text-anchor="middle" fill="#262626">5</text>
<text class="t" transform="translate(324.9 2535) scale(1 1)" font-family='"Liberation Sans", Arial, sans-serif' font-size="26.64" font-weight="bold" text-anchor="middle" fill="#262626">10</text>
<text class="t" transform="translate(443.1 2535) scale(1 1)" font-family='"Liberation Sans", Arial, sans-serif' font-size="26.64" font-weight="bold" text-anchor="middle" fill="#262626">15</text>
<text class="t" transform="translate(561.3 2535) scale(1 1)" font-family='"Liberation Sans", Arial, sans-serif' font-size="26.64" font-weight="bold" text-anchor="middle" fill="#262626">20</text>
<text class="t" transform="translate(78.3 2506.04) scale(1 1)" font-family='"Liberation Sans", Arial, sans-serif' font-size="26.64" font-weight="bold" text-anchor="end" fill="#262626">0</text>
<text class="t" transform="translate(78.3 2413) scale(1 1)" font-family='"Liberation Sans", Arial, sans-serif' font-size="26.64" font-weight="bold" text-anchor="end" fill="#262626">5</text>
<text class="t" transform="translate(78.3 2319.96) scale(1 1)" font-family='"Liberation Sans", Arial, sans-serif' font-size="26.64" font-weight="bold" text-anchor="end" fill="#262626">10</text>
<text class="t" transform="translate(78.3 2226.92) scale(1 1)" font-family='"Liberation Sans", Arial, sans-serif' font-size="26.64" font-weight="bold" text-anchor="end" fill="#262626">15</text>
<text class="t" transform="translate(78.3 2133.88) scale(1 1)" font-family='"Liberation Sans", Arial, sans-serif' font-size="26.64" font-weight="bold" text-anchor="end" fill="#262626">20</text>
<text class="t" transform="translate(78.3 2040.84) scale(1 1)" font-family='"Liberation Sans", Arial, sans-serif' font-size="26.64" font-weight="bold" text-anchor="end" fill="#262626">25</text>
<text class="t" transform="translate(324.9 2572) scale(1 1)" font-family='"Liberation Sans", Arial, sans-serif' font-size="30.39" font-weight="bold" text-anchor="middle" fill="#262626">Length(cm)</text>
<text class="t" transform="translate(34 2262.4) rotate(-90) scale(1 1)" font-family='"Liberation Sans", Arial, sans-serif' font-size="30.39" font-weight="bold" text-anchor="middle" fill="#262626">Width (cm)</text>
<rect x="595.6" y="2029.8" width="33.7" height="464" fill="url(#parula)"/>
<rect x="595.6" y="2029.8" width="33.7" height="464" fill="none" stroke="#1e1e1e" stroke-width="1.45"/>
<text class="t" transform="translate(641 2474.67) scale(1 1)" font-family='"Liberation Sans", Arial, sans-serif' font-size="23.7" font-weight="bold" text-anchor="start" fill="#262626">-0.1</text>
<text class="t" transform="translate(641 2412.48) scale(1 1)" font-family='"Liberation Sans", Arial, sans-serif' font-size="23.7" font-weight="bold" text-anchor="start" fill="#262626">0</text>
<text class="t" transform="translate(641 2350.28) scale(1 1)" font-family='"Liberation Sans", Arial, sans-serif' font-size="23.7" font-weight="bold" text-anchor="start" fill="#262626">0.1</text>
<text class="t" transform="translate(641 2288.08) scale(1 1)" font-family='"Liberation Sans", Arial, sans-serif' font-size="23.7" font-weight="bold" text-anchor="start" fill="#262626">0.2</text>
<text class="t" transform="translate(641 2225.88) scale(1 1)" font-family='"Liberation Sans", Arial, sans-serif' font-size="23.7" font-weight="bold" text-anchor="start" fill="#262626">0.3</text>
<text class="t" transform="translate(641 2163.68) scale(1 1)" font-family='"Liberation Sans", Arial, sans-serif' font-size="23.7" font-weight="bold" text-anchor="start" fill="#262626">0.4</text>
<text class="t" transform="translate(641 2101.48) scale(1 1)" font-family='"Liberation Sans", Arial, sans-serif' font-size="23.7" font-weight="bold" text-anchor="start" fill="#262626">0.5</text>
<text class="t" transform="translate(641 2039.29) scale(1 1)" font-family='"Liberation Sans", Arial, sans-serif' font-size="23.7" font-weight="bold" text-anchor="start" fill="#262626">0.6</text>
<path d="M629.3 2465.19h-4M629.3 2402.99h-4M629.3 2340.79h-4M629.3 2278.59h-4M629.3 2216.4h-4M629.3 2154.2h-4M629.3 2092h-4M629.3 2029.8h-4" stroke="#262626" stroke-width="1" fill="none"/>
<text x="356.8" y="2639.6" font-family='"Liberation Serif", "Times New Roman", serif' font-size="42.7" text-anchor="middle" fill="#000"><tspan font-weight="bold">(g)</tspan> Case 2 (subcase 3)</text>
<rect x="842.9" y="2029.4" width="484.3" height="466.2" fill="#0000ff"/>
<path d="M848.01 2253.18L862.01 2253.18M851.15 2249.32L858.87 2257.04M855.01 2246.18L855.01 2260.18M858.87 2249.32L851.15 2257.04" stroke="#fff" stroke-width="1.6" fill="none" stroke-linecap="butt"/>
<path d="M848.01 2365.06L862.01 2365.06M851.15 2361.2L858.87 2368.92M855.01 2358.06L855.01 2372.06M858.87 2361.2L851.15 2368.92" stroke="#fff" stroke-width="1.6" fill="none" stroke-linecap="butt"/>
<path d="M1308.09 2253.18L1322.09 2253.18M1311.23 2249.32L1318.95 2257.04M1315.09 2246.18L1315.09 2260.18M1318.95 2249.32L1311.23 2257.04" stroke="#fff" stroke-width="1.6" fill="none" stroke-linecap="butt"/>
<path d="M1131.11 2257.51L1142.95 2257.35L1144.08 2256.1L1150.29 2256.1L1151.42 2257.35L1154.24 2258.93L1157.06 2262.31L1152.55 2265.98L1151.98 2267.39L1149.16 2269.19L1123.21 2269.19L1121.52 2266.82L1117.57 2262.31L1126.59 2259.21Z" fill="#ffff00" transform="translate(0 -0)"/>
<g transform="translate(0 -0)">
<rect x="1112.5" y="2259.15" width="51" height="6.5" rx="3.25" fill="#c0004c"/>
<rect x="1112.5" y="2259.15" width="46" height="6.5" rx="3.25" fill="#ff3c00"/>
<rect x="1115.1" y="2260.85" width="41.8" height="3.1" rx="1.4" fill="#ff7800"/>
<rect x="1160.5" y="2259.75" width="2" height="5.3" rx="1" fill="#ff0000"/>
</g>
<text class="t" transform="translate(844.5 2535) scale(1 1)" font-family='"Liberation Sans", Arial, sans-serif' font-size="26.96" font-weight="bold" text-anchor="middle" fill="#262626">0</text>
<text class="t" transform="translate(965.17 2535) scale(1 1)" font-family='"Liberation Sans", Arial, sans-serif' font-size="26.96" font-weight="bold" text-anchor="middle" fill="#262626">5</text>
<text class="t" transform="translate(1085.85 2535) scale(1 1)" font-family='"Liberation Sans", Arial, sans-serif' font-size="26.96" font-weight="bold" text-anchor="middle" fill="#262626">10</text>
<text class="t" transform="translate(1206.53 2535) scale(1 1)" font-family='"Liberation Sans", Arial, sans-serif' font-size="26.96" font-weight="bold" text-anchor="middle" fill="#262626">15</text>
<text class="t" transform="translate(1327.2 2535) scale(1 1)" font-family='"Liberation Sans", Arial, sans-serif' font-size="26.96" font-weight="bold" text-anchor="middle" fill="#262626">20</text>
<text class="t" transform="translate(833.1 2506.15) scale(1 1)" font-family='"Liberation Sans", Arial, sans-serif' font-size="26.96" font-weight="bold" text-anchor="end" fill="#262626">0</text>
<text class="t" transform="translate(833.1 2413.11) scale(1 1)" font-family='"Liberation Sans", Arial, sans-serif' font-size="26.96" font-weight="bold" text-anchor="end" fill="#262626">5</text>
<text class="t" transform="translate(833.1 2320.07) scale(1 1)" font-family='"Liberation Sans", Arial, sans-serif' font-size="26.96" font-weight="bold" text-anchor="end" fill="#262626">10</text>
<text class="t" transform="translate(833.1 2227.03) scale(1 1)" font-family='"Liberation Sans", Arial, sans-serif' font-size="26.96" font-weight="bold" text-anchor="end" fill="#262626">15</text>
<text class="t" transform="translate(833.1 2133.99) scale(1 1)" font-family='"Liberation Sans", Arial, sans-serif' font-size="26.96" font-weight="bold" text-anchor="end" fill="#262626">20</text>
<text class="t" transform="translate(833.1 2040.95) scale(1 1)" font-family='"Liberation Sans", Arial, sans-serif' font-size="26.96" font-weight="bold" text-anchor="end" fill="#262626">25</text>
<text class="t" transform="translate(1085.85 2571.8) scale(1.05 1)" font-family='"Liberation Sans", Arial, sans-serif' font-size="29.21" font-weight="bold" text-anchor="middle" fill="#262626">Length(cm)</text>
<text class="t" transform="translate(787.7 2262.4) rotate(-90) scale(1.05 1)" font-family='"Liberation Sans", Arial, sans-serif' font-size="29.21" font-weight="bold" text-anchor="middle" fill="#262626">Width (cm)</text>
<rect x="1361.2" y="2030.3" width="35.5" height="232.3" fill="#ffff00"/>
<rect x="1361.2" y="2262.6" width="35.5" height="231.6" fill="#0000ff"/>
<rect x="1361.2" y="2030.3" width="35.5" height="463.9" fill="none" stroke="#1e1e1e" stroke-width="1.45"/>
<text class="t" transform="translate(1408.7 2039.89) scale(1 1)" font-family='"Liberation Sans", Arial, sans-serif' font-size="23.98" font-weight="bold" text-anchor="start" fill="#262626">1</text>
<text class="t" transform="translate(1408.7 2503.79) scale(1 1)" font-family='"Liberation Sans", Arial, sans-serif' font-size="23.98" font-weight="bold" text-anchor="start" fill="#262626">0</text>
<text x="1111.2" y="2639.6" font-family='"Liberation Serif", "Times New Roman", serif' font-size="42.7" text-anchor="middle" fill="#000"><tspan font-weight="bold">(h)</tspan> Case 2 (subcase 3) threshold</text>
</svg>
</body></html>
